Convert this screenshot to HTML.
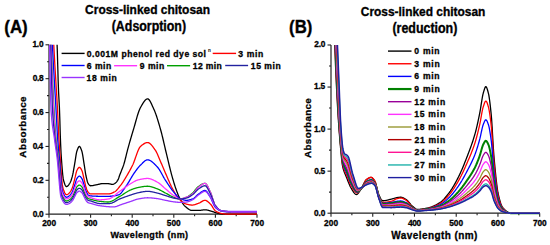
<!DOCTYPE html>
<html><head><meta charset="utf-8"><title>Cross-linked chitosan spectra</title><style>
html,body{margin:0;padding:0;background:#fff;width:550px;height:245px;overflow:hidden}
svg{display:block;position:absolute;left:0;top:0}
text{font-family:"Liberation Sans",sans-serif;font-weight:bold;fill:#000}
</style></head><body>
<svg width="550" height="245" viewBox="0 0 550 245">
<defs>
<clipPath id="ca"><rect x="40" y="44.8" width="230" height="180"/></clipPath>
<clipPath id="cb"><rect x="320" y="45" width="230" height="180"/></clipPath>
</defs>

<path d="M49.0 44.8V214.2H257.0" fill="none" stroke="#222" stroke-width="1.2"/><path d="M45.5 214.20H49.0" stroke="#222" stroke-width="1.1"/><path d="M45.5 180.32H49.0" stroke="#222" stroke-width="1.1"/><path d="M45.5 146.44H49.0" stroke="#222" stroke-width="1.1"/><path d="M45.5 112.56H49.0" stroke="#222" stroke-width="1.1"/><path d="M45.5 78.68H49.0" stroke="#222" stroke-width="1.1"/><path d="M45.5 44.80H49.0" stroke="#222" stroke-width="1.1"/><path d="M47.0 197.26H49.0" stroke="#222" stroke-width="1.1"/><path d="M47.0 163.38H49.0" stroke="#222" stroke-width="1.1"/><path d="M47.0 129.50H49.0" stroke="#222" stroke-width="1.1"/><path d="M47.0 95.62H49.0" stroke="#222" stroke-width="1.1"/><path d="M47.0 61.74H49.0" stroke="#222" stroke-width="1.1"/><path d="M49.00 214.2V217.7" stroke="#222" stroke-width="1.1"/><path d="M90.60 214.2V217.7" stroke="#222" stroke-width="1.1"/><path d="M132.20 214.2V217.7" stroke="#222" stroke-width="1.1"/><path d="M173.80 214.2V217.7" stroke="#222" stroke-width="1.1"/><path d="M215.40 214.2V217.7" stroke="#222" stroke-width="1.1"/><path d="M257.00 214.2V217.7" stroke="#222" stroke-width="1.1"/><path d="M69.80 214.2V216.2" stroke="#222" stroke-width="1.1"/><path d="M111.40 214.2V216.2" stroke="#222" stroke-width="1.1"/><path d="M153.00 214.2V216.2" stroke="#222" stroke-width="1.1"/><path d="M194.60 214.2V216.2" stroke="#222" stroke-width="1.1"/><path d="M236.20 214.2V216.2" stroke="#222" stroke-width="1.1"/>
<path d="M331.0 45.0V213.2H539.7" fill="none" stroke="#222" stroke-width="1.2"/><path d="M327.5 213.20H331.0" stroke="#222" stroke-width="1.1"/><path d="M327.5 171.15H331.0" stroke="#222" stroke-width="1.1"/><path d="M327.5 129.10H331.0" stroke="#222" stroke-width="1.1"/><path d="M327.5 87.05H331.0" stroke="#222" stroke-width="1.1"/><path d="M327.5 45.00H331.0" stroke="#222" stroke-width="1.1"/><path d="M329.0 192.17H331.0" stroke="#222" stroke-width="1.1"/><path d="M329.0 150.12H331.0" stroke="#222" stroke-width="1.1"/><path d="M329.0 108.07H331.0" stroke="#222" stroke-width="1.1"/><path d="M329.0 66.03H331.0" stroke="#222" stroke-width="1.1"/><path d="M331.00 213.2V216.7" stroke="#222" stroke-width="1.1"/><path d="M372.74 213.2V216.7" stroke="#222" stroke-width="1.1"/><path d="M414.48 213.2V216.7" stroke="#222" stroke-width="1.1"/><path d="M456.22 213.2V216.7" stroke="#222" stroke-width="1.1"/><path d="M497.96 213.2V216.7" stroke="#222" stroke-width="1.1"/><path d="M539.70 213.2V216.7" stroke="#222" stroke-width="1.1"/><path d="M351.87 213.2V215.2" stroke="#222" stroke-width="1.1"/><path d="M393.61 213.2V215.2" stroke="#222" stroke-width="1.1"/><path d="M435.35 213.2V215.2" stroke="#222" stroke-width="1.1"/><path d="M477.09 213.2V215.2" stroke="#222" stroke-width="1.1"/><path d="M518.83 213.2V215.2" stroke="#222" stroke-width="1.1"/>
<text x="85.10" y="14.00" font-size="13.2" textLength="124.93" lengthAdjust="spacingAndGlyphs" stroke="#000" stroke-width="0.35">Cross-linked chitosan</text>
<text x="111.74" y="31.30" font-size="14.0" textLength="74.33" lengthAdjust="spacingAndGlyphs" stroke="#000" stroke-width="0.35">(Adsorption)</text>
<text x="4.27" y="32.70" font-size="17.5" textLength="23.48" lengthAdjust="spacingAndGlyphs" stroke="#000" stroke-width="0.35">(A)</text>
<text x="360.78" y="16.30" font-size="13.2" textLength="124.56" lengthAdjust="spacingAndGlyphs" stroke="#000" stroke-width="0.35">Cross-linked chitosan</text>
<text x="392.43" y="33.40" font-size="14.0" textLength="64.87" lengthAdjust="spacingAndGlyphs" stroke="#000" stroke-width="0.35">(reduction)</text>
<text x="289.10" y="33.00" font-size="17.5" textLength="23.22" lengthAdjust="spacingAndGlyphs" stroke="#000" stroke-width="0.35">(B)</text>
<text x="110.38" y="238.40" font-size="9.0" textLength="77.69" lengthAdjust="spacing" stroke="#000" stroke-width="0.3">Wavelength (nm)</text>
<text x="391.23" y="238.70" font-size="10.0" textLength="86.20" lengthAdjust="spacing" stroke="#000" stroke-width="0.3">Wavelength (nm)</text>
<text x="86.82" y="56.70" font-size="8.6" textLength="119.19" lengthAdjust="spacing" stroke="#000" stroke-width="0.3">0.001M phenol red dye sol</text>
<text x="207.9" y="51.6" font-size="4.6" font-weight="normal">n</text>
<text x="238.33" y="56.70" font-size="8.6" textLength="24.97" lengthAdjust="spacing" stroke="#000" stroke-width="0.3">3 min</text>
<text x="86.85" y="68.70" font-size="8.6" textLength="24.31" lengthAdjust="spacing" stroke="#000" stroke-width="0.3">6 min</text>
<text x="139.84" y="68.70" font-size="8.6" textLength="24.30" lengthAdjust="spacing" stroke="#000" stroke-width="0.3">9 min</text>
<text x="192.80" y="68.70" font-size="8.6" textLength="29.07" lengthAdjust="spacing" stroke="#000" stroke-width="0.3">12 min</text>
<text x="250.86" y="68.60" font-size="8.6" textLength="29.79" lengthAdjust="spacing" stroke="#000" stroke-width="0.3">15 min</text>
<text x="86.57" y="80.50" font-size="8.6" textLength="30.08" lengthAdjust="spacing" stroke="#000" stroke-width="0.3">18 min</text>
<text x="414.34" y="54.00" font-size="8.6" textLength="25.27" lengthAdjust="spacing" stroke="#000" stroke-width="0.3">0 min</text>
<text x="414.33" y="66.65" font-size="8.6" textLength="25.30" lengthAdjust="spacing" stroke="#000" stroke-width="0.3">3 min</text>
<text x="414.28" y="79.30" font-size="8.6" textLength="25.33" lengthAdjust="spacing" stroke="#000" stroke-width="0.3">6 min</text>
<text x="414.33" y="91.95" font-size="8.6" textLength="25.32" lengthAdjust="spacing" stroke="#000" stroke-width="0.3">9 min</text>
<text x="414.17" y="104.60" font-size="8.6" textLength="31.00" lengthAdjust="spacing" stroke="#000" stroke-width="0.3">12 min</text>
<text x="414.17" y="117.25" font-size="8.6" textLength="31.00" lengthAdjust="spacing" stroke="#000" stroke-width="0.3">15 min</text>
<text x="414.17" y="129.90" font-size="8.6" textLength="31.00" lengthAdjust="spacing" stroke="#000" stroke-width="0.3">18 min</text>
<text x="414.40" y="142.55" font-size="8.6" textLength="30.77" lengthAdjust="spacing" stroke="#000" stroke-width="0.3">21 min</text>
<text x="414.40" y="155.20" font-size="8.6" textLength="30.77" lengthAdjust="spacing" stroke="#000" stroke-width="0.3">24 min</text>
<text x="414.40" y="167.85" font-size="8.6" textLength="30.77" lengthAdjust="spacing" stroke="#000" stroke-width="0.3">27 min</text>
<text x="414.33" y="180.50" font-size="8.6" textLength="30.81" lengthAdjust="spacing" stroke="#000" stroke-width="0.3">30 min</text>
<text x="32.87" y="216.60" font-size="8.3" textLength="10.67" lengthAdjust="spacing" stroke="#000" stroke-width="0.3">0.0</text>
<text x="32.85" y="182.72" font-size="8.3" textLength="10.66" lengthAdjust="spacing" stroke="#000" stroke-width="0.3">0.2</text>
<text x="32.85" y="148.84" font-size="8.3" textLength="10.36" lengthAdjust="spacing" stroke="#000" stroke-width="0.3">0.4</text>
<text x="32.85" y="114.96" font-size="8.3" textLength="10.65" lengthAdjust="spacing" stroke="#000" stroke-width="0.3">0.6</text>
<text x="32.85" y="81.08" font-size="8.3" textLength="10.65" lengthAdjust="spacing" stroke="#000" stroke-width="0.3">0.8</text>
<text x="32.49" y="47.20" font-size="8.3" textLength="11.08" lengthAdjust="spacing" stroke="#000" stroke-width="0.3">1.0</text>
<text x="42.27" y="225.70" font-size="8.3" textLength="13.75" lengthAdjust="spacing" stroke="#000" stroke-width="0.3">200</text>
<text x="83.72" y="225.70" font-size="8.3" textLength="13.66" lengthAdjust="spacing" stroke="#000" stroke-width="0.3">300</text>
<text x="125.62" y="225.70" font-size="8.3" textLength="13.48" lengthAdjust="spacing" stroke="#000" stroke-width="0.3">400</text>
<text x="166.78" y="225.70" font-size="8.3" textLength="13.82" lengthAdjust="spacing" stroke="#000" stroke-width="0.3">500</text>
<text x="208.57" y="225.70" font-size="8.3" textLength="13.74" lengthAdjust="spacing" stroke="#000" stroke-width="0.3">600</text>
<text x="250.15" y="225.70" font-size="8.3" textLength="13.88" lengthAdjust="spacing" stroke="#000" stroke-width="0.3">700</text>
<text x="314.06" y="215.60" font-size="8.3" textLength="11.24" lengthAdjust="spacing" stroke="#000" stroke-width="0.3">0.0</text>
<text x="314.18" y="173.55" font-size="8.3" textLength="10.83" lengthAdjust="spacing" stroke="#000" stroke-width="0.3">0.5</text>
<text x="314.10" y="131.50" font-size="8.3" textLength="11.23" lengthAdjust="spacing" stroke="#000" stroke-width="0.3">1.0</text>
<text x="314.10" y="89.45" font-size="8.3" textLength="10.91" lengthAdjust="spacing" stroke="#000" stroke-width="0.3">1.5</text>
<text x="314.26" y="47.40" font-size="8.3" textLength="11.07" lengthAdjust="spacing" stroke="#000" stroke-width="0.3">2.0</text>
<text x="324.06" y="225.50" font-size="8.3" textLength="13.96" lengthAdjust="spacing" stroke="#000" stroke-width="0.3">200</text>
<text x="365.88" y="225.50" font-size="8.3" textLength="13.73" lengthAdjust="spacing" stroke="#000" stroke-width="0.3">300</text>
<text x="407.90" y="225.50" font-size="8.3" textLength="13.33" lengthAdjust="spacing" stroke="#000" stroke-width="0.3">400</text>
<text x="449.13" y="225.50" font-size="8.3" textLength="14.07" lengthAdjust="spacing" stroke="#000" stroke-width="0.3">500</text>
<text x="490.99" y="225.50" font-size="8.3" textLength="13.82" lengthAdjust="spacing" stroke="#000" stroke-width="0.3">600</text>
<text x="532.92" y="225.50" font-size="8.3" textLength="13.65" lengthAdjust="spacing" stroke="#000" stroke-width="0.3">700</text>
<text transform="translate(26.40 157.67) rotate(-90)" font-size="9.9" textLength="61.26" lengthAdjust="spacing" stroke="#000" stroke-width="0.3">Absorbance</text>
<text transform="translate(311.00 157.88) rotate(-90)" font-size="9.9" textLength="59.69" lengthAdjust="spacing" stroke="#000" stroke-width="0.3">Absorbance</text>
<g clip-path="url(#ca)" fill="none" stroke-width="1.3" stroke-linejoin="round">
<path stroke="#000000" d="M47.34 -158.48L47.75 -154.00L48.17 -149.01L48.58 -143.52L49.00 -137.56L49.42 -131.14L49.83 -124.29L50.25 -117.03L50.66 -109.37L51.08 -101.34L51.50 -92.95L51.91 -84.23L52.33 -75.20L52.74 -65.87L53.16 -56.27L53.58 -46.41L53.99 -36.32L54.41 -26.02L54.82 -15.52L55.24 -4.85L55.66 5.98L56.07 16.94L56.49 28.02L56.90 39.19L57.32 51.01L57.74 65.66L58.15 80.43L58.57 91.93L58.98 99.59L59.40 107.27L59.82 119.20L60.23 133.67L60.65 144.64L61.06 153.23L61.48 159.58L61.90 165.26L62.31 170.38L62.73 174.75L63.14 178.13L63.56 180.32L63.98 181.79L64.39 183.12L64.81 184.28L65.22 185.24L65.64 185.97L66.06 186.43L66.47 186.59L66.89 186.51L67.30 186.30L67.72 185.97L68.14 185.55L68.55 185.05L68.97 184.48L69.38 183.88L69.80 183.26L70.22 182.53L70.63 181.60L71.05 180.49L71.46 179.23L71.88 177.86L72.30 176.39L72.71 174.68L73.13 172.64L73.54 170.37L73.96 167.97L74.38 165.54L74.79 163.17L75.21 160.65L75.62 157.89L76.04 155.19L76.46 152.86L76.87 151.21L77.29 150.02L77.70 148.90L78.12 147.92L78.54 147.14L78.95 146.63L79.37 146.44L79.78 146.62L80.20 147.14L80.62 147.91L81.03 148.89L81.45 150.00L81.86 151.19L82.28 152.80L82.70 155.04L83.11 157.66L83.53 160.41L83.94 163.03L84.36 165.66L84.78 168.48L85.19 171.27L85.61 173.85L86.02 176.01L86.44 177.89L86.86 179.68L87.27 181.27L87.69 182.56L88.10 183.43L88.52 184.03L88.94 184.58L89.35 185.05L89.77 185.42L90.18 185.66L90.60 185.74L91.02 185.73L91.43 185.71L91.85 185.67L92.26 185.62L92.68 185.56L93.10 185.49L93.51 185.41L93.93 185.33L94.34 185.24L94.76 185.15L95.18 185.06L95.59 184.97L96.01 184.88L96.42 184.80L96.84 184.72L97.26 184.65L97.67 184.56L98.09 184.46L98.50 184.36L98.92 184.25L99.34 184.15L99.75 184.05L100.17 183.95L100.58 183.85L101.00 183.76L101.42 183.69L101.83 183.63L102.25 183.58L102.66 183.55L103.08 183.54L103.50 183.54L103.91 183.54L104.33 183.55L104.74 183.56L105.16 183.57L105.58 183.58L105.99 183.59L106.41 183.61L106.82 183.63L107.24 183.65L107.66 183.66L108.07 183.69L108.49 183.71L108.90 183.75L109.32 183.81L109.74 183.89L110.15 183.98L110.57 184.07L110.98 184.17L111.40 184.25L111.82 184.32L112.23 184.37L112.65 184.39L113.06 184.34L113.48 184.21L113.90 184.02L114.31 183.77L114.73 183.48L115.14 183.18L115.56 182.86L115.98 182.51L116.39 182.08L116.81 181.58L117.22 181.00L117.64 180.36L118.06 179.64L118.47 178.71L118.89 177.53L119.30 176.26L119.72 175.07L120.14 173.99L120.55 172.95L120.97 171.91L121.38 170.88L121.80 169.82L122.22 168.76L122.63 167.71L123.05 166.62L123.46 165.45L123.88 164.16L124.30 162.74L124.71 161.24L125.13 159.65L125.54 158.01L125.96 156.33L126.38 154.64L126.79 152.96L127.21 151.30L127.62 149.68L128.04 148.13L128.46 146.63L128.87 145.14L129.29 143.67L129.70 142.20L130.12 140.75L130.54 139.30L130.95 137.87L131.37 136.45L131.78 135.04L132.20 133.64L132.62 132.25L133.03 130.87L133.45 129.50L133.86 128.11L134.28 126.69L134.70 125.23L135.11 123.75L135.53 122.27L135.94 120.78L136.36 119.31L136.78 117.86L137.19 116.44L137.61 115.06L138.02 113.74L138.44 112.48L138.86 111.29L139.27 110.18L139.69 109.17L140.10 108.27L140.52 107.48L140.94 106.75L141.35 106.01L141.77 105.28L142.18 104.56L142.60 103.86L143.02 103.18L143.43 102.52L143.85 101.90L144.26 101.32L144.68 100.79L145.10 100.31L145.51 99.88L145.93 99.52L146.34 99.23L146.76 99.02L147.18 98.88L147.59 98.84L148.01 98.92L148.42 99.14L148.84 99.49L149.26 99.96L149.67 100.53L150.09 101.20L150.50 101.94L150.92 102.75L151.34 103.62L151.75 104.52L152.17 105.45L152.58 106.39L153.00 107.34L153.42 108.27L153.83 109.17L154.25 110.09L154.66 111.07L155.08 112.12L155.50 113.21L155.91 114.36L156.33 115.56L156.74 116.80L157.16 118.08L157.58 119.39L157.99 120.74L158.41 122.11L158.82 123.51L159.24 124.93L159.66 126.37L160.07 127.82L160.49 129.28L160.90 130.75L161.32 132.29L161.74 133.89L162.15 135.55L162.57 137.25L162.98 139.00L163.40 140.77L163.82 142.56L164.23 144.36L164.65 146.16L165.06 147.96L165.48 149.74L165.90 151.50L166.31 153.22L166.73 154.93L167.14 156.65L167.56 158.39L167.98 160.13L168.39 161.87L168.81 163.60L169.22 165.32L169.64 167.02L170.06 168.70L170.47 170.35L170.89 171.96L171.30 173.54L171.72 175.07L172.14 176.57L172.55 178.05L172.97 179.51L173.38 180.94L173.80 182.35L174.22 183.72L174.63 185.06L175.05 186.35L175.46 187.60L175.88 188.79L176.30 189.95L176.71 191.10L177.13 192.23L177.54 193.33L177.96 194.39L178.38 195.41L178.79 196.39L179.21 197.31L179.62 198.16L180.04 198.95L180.46 199.70L180.87 200.43L181.29 201.13L181.70 201.82L182.12 202.48L182.54 203.12L182.95 203.72L183.37 204.29L183.78 204.83L184.20 205.33L184.62 205.79L185.03 206.20L185.45 206.58L185.86 206.93L186.28 207.28L186.70 207.63L187.11 207.97L187.53 208.31L187.94 208.63L188.36 208.93L188.78 209.22L189.19 209.49L189.61 209.73L190.02 209.94L190.44 210.13L190.86 210.27L191.27 210.38L191.69 210.45L192.10 210.47L192.52 210.47L192.94 210.47L193.35 210.47L193.77 210.47L194.18 210.47L194.60 210.47L195.02 210.47L195.43 210.47L195.85 210.47L196.26 210.47L196.68 210.47L197.10 210.47L197.51 210.47L197.93 210.47L198.34 210.47L198.76 210.47L199.18 210.46L199.59 210.44L200.01 210.40L200.42 210.35L200.84 210.30L201.26 210.23L201.67 210.17L202.09 210.10L202.50 210.03L202.92 209.97L203.34 209.91L203.75 209.87L204.17 209.83L204.58 209.80L205.00 209.80L205.42 209.81L205.83 209.84L206.25 209.88L206.66 209.95L207.08 210.03L207.50 210.12L207.91 210.22L208.33 210.32L208.74 210.44L209.16 210.56L209.58 210.68L209.99 210.80L210.41 210.92L210.82 211.04L211.24 211.15L211.66 211.27L212.07 211.39L212.49 211.53L212.90 211.67L213.32 211.82L213.74 211.97L214.15 212.12L214.57 212.28L214.98 212.43L215.40 212.58L215.82 212.72L216.23 212.85L216.65 212.97L217.06 213.09L217.48 213.18L217.90 213.28L218.31 213.37L218.73 213.46L219.14 213.56L219.56 213.65L219.98 213.74L220.39 213.82L220.81 213.90L221.22 213.97L221.64 214.04L222.06 214.09L222.47 214.14L222.89 214.17L223.30 214.19L223.72 214.20L224.14 214.20L224.55 214.20L224.97 214.20L225.38 214.20L225.80 214.20L226.22 214.20L226.63 214.20L227.05 214.20L227.46 214.20L227.88 214.20L228.30 214.20L228.71 214.20L229.13 214.20L229.54 214.20L229.96 214.20L230.38 214.20L230.79 214.20L231.21 214.20L231.62 214.20L232.04 214.20L232.46 214.20L232.87 214.20L233.29 214.20L233.70 214.20L234.12 214.20L234.54 214.20L234.95 214.20L235.37 214.20L235.78 214.20L236.20 214.20L236.62 214.20L237.03 214.20L237.45 214.20L237.86 214.20L238.28 214.20L238.70 214.20L239.11 214.20L239.53 214.20L239.94 214.20L240.36 214.20L240.78 214.20L241.19 214.20L241.61 214.20L242.02 214.20L242.44 214.20L242.86 214.20L243.27 214.20L243.69 214.20L244.10 214.20L244.52 214.20L244.94 214.20L245.35 214.20L245.77 214.20L246.18 214.20L246.60 214.20L247.02 214.20L247.43 214.20L247.85 214.20L248.26 214.20L248.68 214.20L249.10 214.20L249.51 214.20L249.93 214.20L250.34 214.20L250.76 214.20L251.18 214.20L251.59 214.20L252.01 214.20L252.42 214.20L252.84 214.20L253.26 214.20L253.67 214.20L254.09 214.20L254.50 214.20L254.92 214.20L255.34 214.20L255.75 214.20L256.17 214.20L256.58 214.20L257.00 214.20"/>
<path stroke="#ff0000" d="M46.09 -158.48L46.50 -145.10L46.92 -131.99L47.34 -119.17L47.75 -106.62L48.17 -94.35L48.58 -82.36L49.00 -70.64L49.42 -59.19L49.83 -48.02L50.25 -37.11L50.66 -26.48L51.08 -16.11L51.50 -6.01L51.91 3.82L52.33 13.39L52.74 22.69L53.16 31.73L53.58 40.51L53.99 48.97L54.41 56.83L54.82 64.19L55.24 71.18L55.66 77.97L56.07 84.70L56.49 91.52L56.90 98.58L57.32 106.04L57.74 114.18L58.15 123.18L58.57 132.12L58.98 140.00L59.40 146.57L59.82 152.45L60.23 157.96L60.65 163.67L61.06 169.66L61.48 175.46L61.90 180.61L62.31 184.64L62.73 187.10L63.14 188.55L63.56 189.89L63.98 191.09L64.39 192.14L64.81 193.03L65.22 193.75L65.64 194.28L66.06 194.61L66.47 194.72L66.89 194.67L67.30 194.52L67.72 194.29L68.14 194.00L68.55 193.65L68.97 193.26L69.38 192.84L69.80 192.41L70.22 191.90L70.63 191.26L71.05 190.50L71.46 189.64L71.88 188.70L72.30 187.70L72.71 186.53L73.13 185.14L73.54 183.59L73.96 181.95L74.38 180.29L74.79 178.67L75.21 176.95L75.62 175.07L76.04 173.23L76.46 171.65L76.87 170.52L77.29 169.71L77.70 168.95L78.12 168.28L78.54 167.75L78.95 167.40L79.37 167.28L79.78 167.40L80.20 167.75L80.62 168.28L81.03 168.94L81.45 169.69L81.86 170.50L82.28 171.59L82.70 173.11L83.11 174.89L83.53 176.75L83.94 178.53L84.36 180.31L84.78 182.22L85.19 184.11L85.61 185.85L86.02 187.32L86.44 188.59L86.86 189.79L87.27 190.87L87.69 191.74L88.10 192.32L88.52 192.73L88.94 193.09L89.35 193.41L89.77 193.66L90.18 193.82L90.60 193.87L91.02 193.87L91.43 193.87L91.85 193.87L92.26 193.87L92.68 193.87L93.10 193.87L93.51 193.87L93.93 193.87L94.34 193.87L94.76 193.87L95.18 193.87L95.59 193.87L96.01 193.87L96.42 193.87L96.84 193.87L97.26 193.87L97.67 193.87L98.09 193.87L98.50 193.87L98.92 193.87L99.34 193.87L99.75 193.87L100.17 193.87L100.58 193.87L101.00 193.87L101.42 193.87L101.83 193.87L102.25 193.87L102.66 193.87L103.08 193.87L103.50 193.87L103.91 193.87L104.33 193.87L104.74 193.87L105.16 193.87L105.58 193.87L105.99 193.87L106.41 193.87L106.82 193.87L107.24 193.87L107.66 193.87L108.07 193.87L108.49 193.87L108.90 193.86L109.32 193.82L109.74 193.75L110.15 193.67L110.57 193.56L110.98 193.44L111.40 193.30L111.82 193.14L112.23 192.97L112.65 192.79L113.06 192.60L113.48 192.41L113.90 192.21L114.31 192.01L114.73 191.78L115.14 191.50L115.56 191.18L115.98 190.82L116.39 190.43L116.81 190.00L117.22 189.54L117.64 189.06L118.06 188.56L118.47 188.05L118.89 187.53L119.30 187.00L119.72 186.46L120.14 185.93L120.55 185.40L120.97 184.87L121.38 184.31L121.80 183.74L122.22 183.14L122.63 182.53L123.05 181.90L123.46 181.25L123.88 180.60L124.30 179.93L124.71 179.25L125.13 178.57L125.54 177.88L125.96 177.18L126.38 176.48L126.79 175.77L127.21 175.07L127.62 174.36L128.04 173.65L128.46 172.92L128.87 172.19L129.29 171.45L129.70 170.70L130.12 169.93L130.54 169.16L130.95 168.37L131.37 167.57L131.78 166.75L132.20 165.92L132.62 165.07L133.03 164.18L133.45 163.20L133.86 162.15L134.28 161.06L134.70 159.92L135.11 158.75L135.53 157.56L135.94 156.37L136.36 155.18L136.78 154.02L137.19 152.89L137.61 151.80L138.02 150.76L138.44 149.80L138.86 148.92L139.27 148.13L139.69 147.44L140.10 146.88L140.52 146.44L140.94 146.08L141.35 145.72L141.77 145.37L142.18 145.04L142.60 144.71L143.02 144.40L143.43 144.11L143.85 143.84L144.26 143.59L144.68 143.36L145.10 143.15L145.51 142.98L145.93 142.83L146.34 142.70L146.76 142.62L147.18 142.56L147.59 142.54L148.01 142.58L148.42 142.68L148.84 142.85L149.26 143.07L149.67 143.35L150.09 143.68L150.50 144.05L150.92 144.46L151.34 144.91L151.75 145.39L152.17 145.90L152.58 146.43L153.00 146.98L153.42 147.54L153.83 148.11L154.25 148.68L154.66 149.26L155.08 149.83L155.50 150.43L155.91 151.12L156.33 151.87L156.74 152.69L157.16 153.56L157.58 154.47L157.99 155.42L158.41 156.40L158.82 157.40L159.24 158.41L159.66 159.43L160.07 160.44L160.49 161.44L160.90 162.42L161.32 163.38L161.74 164.33L162.15 165.29L162.57 166.26L162.98 167.24L163.40 168.23L163.82 169.22L164.23 170.21L164.65 171.19L165.06 172.18L165.48 173.15L165.90 174.12L166.31 175.07L166.73 176.02L167.14 176.98L167.56 177.94L167.98 178.91L168.39 179.88L168.81 180.84L169.22 181.79L169.64 182.74L170.06 183.67L170.47 184.59L170.89 185.48L171.30 186.35L171.72 187.19L172.14 188.01L172.55 188.79L172.97 189.55L173.38 190.32L173.80 191.08L174.22 191.83L174.63 192.57L175.05 193.30L175.46 194.01L175.88 194.69L176.30 195.35L176.71 195.99L177.13 196.59L177.54 197.16L177.96 197.69L178.38 198.17L178.79 198.62L179.21 199.03L179.62 199.44L180.04 199.84L180.46 200.23L180.87 200.61L181.29 200.98L181.70 201.34L182.12 201.68L182.54 202.01L182.95 202.32L183.37 202.61L183.78 202.88L184.20 203.13L184.62 203.36L185.03 203.57L185.45 203.75L185.86 203.91L186.28 204.04L186.70 204.15L187.11 204.26L187.53 204.37L187.94 204.47L188.36 204.57L188.78 204.66L189.19 204.74L189.61 204.82L190.02 204.89L190.44 204.94L190.86 204.99L191.27 205.02L191.69 205.05L192.10 205.05L192.52 205.04L192.94 205.00L193.35 204.95L193.77 204.87L194.18 204.78L194.60 204.67L195.02 204.54L195.43 204.41L195.85 204.27L196.26 204.12L196.68 203.96L197.10 203.81L197.51 203.65L197.93 203.49L198.34 203.34L198.76 203.19L199.18 203.03L199.59 202.83L200.01 202.61L200.42 202.37L200.84 202.12L201.26 201.86L201.67 201.60L202.09 201.35L202.50 201.11L202.92 200.89L203.34 200.70L203.75 200.54L204.17 200.42L204.58 200.34L205.00 200.31L205.42 200.34L205.83 200.45L206.25 200.61L206.66 200.83L207.08 201.09L207.50 201.39L207.91 201.72L208.33 202.08L208.74 202.46L209.16 202.85L209.58 203.25L209.99 203.65L210.41 204.04L210.82 204.47L211.24 204.99L211.66 205.58L212.07 206.22L212.49 206.90L212.90 207.58L213.32 208.25L213.74 208.90L214.15 209.50L214.57 210.03L214.98 210.47L215.40 210.81L215.82 211.09L216.23 211.35L216.65 211.60L217.06 211.83L217.48 212.05L217.90 212.26L218.31 212.46L218.73 212.64L219.14 212.81L219.56 212.97L219.98 213.11L220.39 213.24L220.81 213.35L221.22 213.44L221.64 213.52L222.06 213.59L222.47 213.66L222.89 213.73L223.30 213.80L223.72 213.86L224.14 213.92L224.55 213.97L224.97 214.02L225.38 214.07L225.80 214.10L226.22 214.14L226.63 214.16L227.05 214.18L227.46 214.20L227.88 214.20L228.30 214.20L228.71 214.20L229.13 214.20L229.54 214.20L229.96 214.20L230.38 214.20L230.79 214.20L231.21 214.20L231.62 214.20L232.04 214.20L232.46 214.20L232.87 214.20L233.29 214.20L233.70 214.20L234.12 214.20L234.54 214.20L234.95 214.20L235.37 214.20L235.78 214.20L236.20 214.20L236.62 214.20L237.03 214.20L237.45 214.20L237.86 214.20L238.28 214.20L238.70 214.20L239.11 214.20L239.53 214.20L239.94 214.20L240.36 214.20L240.78 214.20L241.19 214.20L241.61 214.20L242.02 214.20L242.44 214.20L242.86 214.20L243.27 214.20L243.69 214.20L244.10 214.20L244.52 214.20L244.94 214.20L245.35 214.20L245.77 214.20L246.18 214.20L246.60 214.20L247.02 214.20L247.43 214.20L247.85 214.20L248.26 214.20L248.68 214.20L249.10 214.20L249.51 214.20L249.93 214.20L250.34 214.20L250.76 214.20L251.18 214.20L251.59 214.20L252.01 214.20L252.42 214.20L252.84 214.20L253.26 214.20L253.67 214.20L254.09 214.20L254.50 214.20L254.92 214.20L255.34 214.20L255.75 214.20L256.17 214.20L256.58 214.20L257.00 214.20"/>
<path stroke="#0000ff" d="M44.84 -158.48L45.26 -144.95L45.67 -131.71L46.09 -118.74L46.50 -106.06L46.92 -93.65L47.34 -81.52L47.75 -69.67L48.17 -58.09L48.58 -46.78L49.00 -35.74L49.42 -24.97L49.83 -14.46L50.25 -4.22L50.66 5.75L51.08 15.46L51.50 24.91L51.91 34.11L52.33 43.04L52.74 51.63L53.16 59.73L53.58 67.43L53.99 74.83L54.41 82.02L54.82 89.10L55.24 96.17L55.66 103.32L56.07 110.67L56.49 118.46L56.90 126.33L57.32 133.71L57.74 140.00L58.15 145.08L58.57 149.48L58.98 153.63L59.40 157.96L59.82 162.96L60.23 168.55L60.65 174.32L61.06 179.82L61.48 184.63L61.90 188.33L62.31 190.48L62.73 191.68L63.14 192.77L63.56 193.77L63.98 194.65L64.39 195.42L64.81 196.06L65.22 196.58L65.64 196.95L66.06 197.18L66.47 197.26L66.89 197.22L67.30 197.10L67.72 196.91L68.14 196.67L68.55 196.38L68.97 196.07L69.38 195.73L69.80 195.38L70.22 194.98L70.63 194.48L71.05 193.89L71.46 193.22L71.88 192.49L72.30 191.71L72.71 190.80L73.13 189.73L73.54 188.54L73.96 187.28L74.38 186.01L74.79 184.77L75.21 183.46L75.62 182.02L76.04 180.62L76.46 179.41L76.87 178.55L77.29 177.93L77.70 177.35L78.12 176.85L78.54 176.45L78.95 176.18L79.37 176.08L79.78 176.18L80.20 176.44L80.62 176.84L81.03 177.34L81.45 177.91L81.86 178.52L82.28 179.34L82.70 180.48L83.11 181.81L83.53 183.21L83.94 184.54L84.36 185.88L84.78 187.30L85.19 188.71L85.61 190.01L86.02 191.10L86.44 192.04L86.86 192.93L87.27 193.72L87.69 194.36L88.10 194.79L88.52 195.07L88.94 195.33L89.35 195.55L89.77 195.72L90.18 195.84L90.60 195.90L91.02 195.93L91.43 195.96L91.85 195.99L92.26 196.02L92.68 196.04L93.10 196.07L93.51 196.09L93.93 196.11L94.34 196.13L94.76 196.15L95.18 196.17L95.59 196.19L96.01 196.21L96.42 196.23L96.84 196.24L97.26 196.26L97.67 196.27L98.09 196.29L98.50 196.30L98.92 196.31L99.34 196.32L99.75 196.33L100.17 196.34L100.58 196.35L101.00 196.36L101.42 196.37L101.83 196.37L102.25 196.38L102.66 196.39L103.08 196.39L103.50 196.39L103.91 196.40L104.33 196.40L104.74 196.41L105.16 196.41L105.58 196.41L105.99 196.41L106.41 196.41L106.82 196.41L107.24 196.41L107.66 196.41L108.07 196.40L108.49 196.38L108.90 196.36L109.32 196.34L109.74 196.31L110.15 196.27L110.57 196.23L110.98 196.19L111.40 196.15L111.82 196.10L112.23 196.05L112.65 196.00L113.06 195.95L113.48 195.90L113.90 195.85L114.31 195.80L114.73 195.74L115.14 195.67L115.56 195.60L115.98 195.52L116.39 195.43L116.81 195.33L117.22 195.23L117.64 195.12L118.06 195.00L118.47 194.86L118.89 194.72L119.30 194.53L119.72 194.28L120.14 193.96L120.55 193.59L120.97 193.17L121.38 192.70L121.80 192.19L122.22 191.65L122.63 191.08L123.05 190.49L123.46 189.89L123.88 189.27L124.30 188.65L124.71 188.03L125.13 187.42L125.54 186.83L125.96 186.25L126.38 185.67L126.79 185.07L127.21 184.45L127.62 183.80L128.04 183.14L128.46 182.47L128.87 181.79L129.29 181.09L129.70 180.39L130.12 179.69L130.54 178.98L130.95 178.28L131.37 177.57L131.78 176.88L132.20 176.19L132.62 175.51L133.03 174.84L133.45 174.19L133.86 173.56L134.28 172.95L134.70 172.36L135.11 171.78L135.53 171.20L135.94 170.63L136.36 170.05L136.78 169.49L137.19 168.93L137.61 168.39L138.02 167.86L138.44 167.34L138.86 166.84L139.27 166.37L139.69 165.91L140.10 165.48L140.52 165.07L140.94 164.68L141.35 164.26L141.77 163.85L142.18 163.42L142.60 163.00L143.02 162.59L143.43 162.19L143.85 161.80L144.26 161.44L144.68 161.10L145.10 160.79L145.51 160.51L145.93 160.28L146.34 160.09L146.76 159.94L147.18 159.85L147.59 159.82L148.01 159.84L148.42 159.90L148.84 160.00L149.26 160.14L149.67 160.31L150.09 160.51L150.50 160.74L150.92 160.99L151.34 161.28L151.75 161.58L152.17 161.91L152.58 162.26L153.00 162.62L153.42 163.00L153.83 163.40L154.25 163.80L154.66 164.21L155.08 164.64L155.50 165.06L155.91 165.49L156.33 165.92L156.74 166.34L157.16 166.77L157.58 167.22L157.99 167.72L158.41 168.26L158.82 168.85L159.24 169.48L159.66 170.14L160.07 170.83L160.49 171.54L160.90 172.27L161.32 173.02L161.74 173.77L162.15 174.54L162.57 175.30L162.98 176.06L163.40 176.82L163.82 177.56L164.23 178.29L164.65 178.99L165.06 179.67L165.48 180.32L165.90 180.95L166.31 181.59L166.73 182.22L167.14 182.86L167.56 183.49L167.98 184.12L168.39 184.74L168.81 185.37L169.22 185.98L169.64 186.59L170.06 187.20L170.47 187.80L170.89 188.38L171.30 188.96L171.72 189.53L172.14 190.08L172.55 190.63L172.97 191.16L173.38 191.68L173.80 192.18L174.22 192.68L174.63 193.19L175.05 193.71L175.46 194.23L175.88 194.75L176.30 195.25L176.71 195.75L177.13 196.22L177.54 196.67L177.96 197.10L178.38 197.49L178.79 197.84L179.21 198.15L179.62 198.41L180.04 198.62L180.46 198.79L180.87 198.97L181.29 199.13L181.70 199.30L182.12 199.45L182.54 199.60L182.95 199.73L183.37 199.86L183.78 199.97L184.20 200.07L184.62 200.15L185.03 200.22L185.45 200.27L185.86 200.30L186.28 200.31L186.70 200.30L187.11 200.28L187.53 200.24L187.94 200.18L188.36 200.12L188.78 200.04L189.19 199.95L189.61 199.85L190.02 199.74L190.44 199.62L190.86 199.50L191.27 199.37L191.69 199.23L192.10 199.10L192.52 198.95L192.94 198.78L193.35 198.56L193.77 198.28L194.18 197.97L194.60 197.62L195.02 197.25L195.43 196.85L195.85 196.45L196.26 196.04L196.68 195.63L197.10 195.23L197.51 194.85L197.93 194.49L198.34 194.16L198.76 193.87L199.18 193.59L199.59 193.30L200.01 193.00L200.42 192.69L200.84 192.39L201.26 192.09L201.67 191.81L202.09 191.54L202.50 191.29L202.92 191.06L203.34 190.87L203.75 190.71L204.17 190.59L204.58 190.51L205.00 190.48L205.42 190.55L205.83 190.75L206.25 191.06L206.66 191.46L207.08 191.95L207.50 192.52L207.91 193.14L208.33 193.80L208.74 194.49L209.16 195.19L209.58 195.90L209.99 196.59L210.41 197.26L210.82 197.97L211.24 198.80L211.66 199.72L212.07 200.70L212.49 201.71L212.90 202.72L213.32 203.72L213.74 204.67L214.15 205.54L214.57 206.31L214.98 206.94L215.40 207.42L215.82 207.81L216.23 208.18L216.65 208.53L217.06 208.86L217.48 209.18L217.90 209.48L218.31 209.75L218.73 210.01L219.14 210.24L219.56 210.46L219.98 210.64L220.39 210.81L220.81 210.95L221.22 211.06L221.64 211.15L222.06 211.22L222.47 211.29L222.89 211.36L223.30 211.43L223.72 211.49L224.14 211.55L224.55 211.61L224.97 211.66L225.38 211.71L225.80 211.76L226.22 211.81L226.63 211.85L227.05 211.89L227.46 211.93L227.88 211.97L228.30 212.00L228.71 212.03L229.13 212.06L229.54 212.08L229.96 212.10L230.38 212.12L230.79 212.14L231.21 212.15L231.62 212.16L232.04 212.17L232.46 212.17L232.87 212.18L233.29 212.18L233.70 212.19L234.12 212.20L234.54 212.20L234.95 212.21L235.37 212.21L235.78 212.22L236.20 212.22L236.62 212.23L237.03 212.23L237.45 212.24L237.86 212.24L238.28 212.24L238.70 212.25L239.11 212.25L239.53 212.26L239.94 212.26L240.36 212.26L240.78 212.27L241.19 212.27L241.61 212.28L242.02 212.28L242.44 212.28L242.86 212.29L243.27 212.29L243.69 212.29L244.10 212.29L244.52 212.30L244.94 212.30L245.35 212.30L245.77 212.30L246.18 212.31L246.60 212.31L247.02 212.31L247.43 212.31L247.85 212.32L248.26 212.32L248.68 212.32L249.10 212.32L249.51 212.32L249.93 212.32L250.34 212.33L250.76 212.33L251.18 212.33L251.59 212.33L252.01 212.33L252.42 212.33L252.84 212.33L253.26 212.33L253.67 212.33L254.09 212.33L254.50 212.34L254.92 212.34L255.34 212.34L255.75 212.34L256.17 212.34L256.58 212.34L257.00 212.34"/>
<path stroke="#00a000" d="M44.01 -158.48L44.42 -144.69L44.84 -131.16L45.26 -117.87L45.67 -104.82L46.09 -92.01L46.50 -79.43L46.92 -67.08L47.34 -54.95L47.75 -43.05L48.17 -31.36L48.58 -19.88L49.00 -8.61L49.42 2.46L49.83 13.33L50.25 24.01L50.66 34.50L51.08 44.80L51.50 54.97L51.91 65.00L52.33 74.77L52.74 84.19L53.16 93.13L53.58 101.49L53.99 109.17L54.41 116.40L54.82 123.33L55.24 129.72L55.66 135.36L56.07 140.00L56.49 143.67L56.90 146.70L57.32 149.37L57.74 151.95L58.15 154.72L58.57 157.96L58.98 162.10L59.40 167.13L59.82 172.66L60.23 178.30L60.65 183.63L61.06 188.27L61.48 191.82L61.90 193.87L62.31 195.01L62.73 196.07L63.14 197.04L63.56 197.92L63.98 198.70L64.39 199.37L64.81 199.94L65.22 200.39L65.64 200.72L66.06 200.92L66.47 200.99L66.89 200.95L67.30 200.85L67.72 200.70L68.14 200.51L68.55 200.28L68.97 200.03L69.38 199.76L69.80 199.49L70.22 199.17L70.63 198.79L71.05 198.33L71.46 197.83L71.88 197.27L72.30 196.68L72.71 196.00L73.13 195.19L73.54 194.30L73.96 193.36L74.38 192.41L74.79 191.49L75.21 190.52L75.62 189.45L76.04 188.41L76.46 187.51L76.87 186.88L77.29 186.43L77.70 186.00L78.12 185.62L78.54 185.33L78.95 185.13L79.37 185.06L79.78 185.13L80.20 185.32L80.62 185.61L81.03 185.98L81.45 186.39L81.86 186.84L82.28 187.43L82.70 188.26L83.11 189.23L83.53 190.24L83.94 191.21L84.36 192.17L84.78 193.20L85.19 194.21L85.61 195.15L86.02 195.92L86.44 196.59L86.86 197.22L87.27 197.78L87.69 198.23L88.10 198.53L88.52 198.71L88.94 198.86L89.35 198.98L89.77 199.09L90.18 199.19L90.60 199.29L91.02 199.40L91.43 199.51L91.85 199.63L92.26 199.74L92.68 199.85L93.10 199.96L93.51 200.06L93.93 200.17L94.34 200.28L94.76 200.38L95.18 200.48L95.59 200.58L96.01 200.67L96.42 200.76L96.84 200.85L97.26 200.93L97.67 201.01L98.09 201.08L98.50 201.15L98.92 201.22L99.34 201.27L99.75 201.33L100.17 201.37L100.58 201.42L101.00 201.47L101.42 201.52L101.83 201.57L102.25 201.62L102.66 201.66L103.08 201.71L103.50 201.75L103.91 201.79L104.33 201.82L104.74 201.86L105.16 201.89L105.58 201.92L105.99 201.94L106.41 201.96L106.82 201.98L107.24 201.99L107.66 202.00L108.07 202.00L108.49 201.99L108.90 201.95L109.32 201.89L109.74 201.80L110.15 201.69L110.57 201.57L110.98 201.42L111.40 201.26L111.82 201.08L112.23 200.88L112.65 200.67L113.06 200.45L113.48 200.22L113.90 199.98L114.31 199.73L114.73 199.48L115.14 199.22L115.56 198.96L115.98 198.69L116.39 198.42L116.81 198.16L117.22 197.89L117.64 197.63L118.06 197.37L118.47 197.12L118.89 196.88L119.30 196.64L119.72 196.41L120.14 196.19L120.55 195.95L120.97 195.71L121.38 195.46L121.80 195.20L122.22 194.94L122.63 194.67L123.05 194.40L123.46 194.13L123.88 193.86L124.30 193.58L124.71 193.30L125.13 193.03L125.54 192.76L125.96 192.49L126.38 192.22L126.79 191.96L127.21 191.71L127.62 191.46L128.04 191.22L128.46 190.98L128.87 190.76L129.29 190.55L129.70 190.34L130.12 190.15L130.54 189.98L130.95 189.81L131.37 189.64L131.78 189.47L132.20 189.31L132.62 189.15L133.03 189.00L133.45 188.84L133.86 188.70L134.28 188.55L134.70 188.41L135.11 188.28L135.53 188.15L135.94 188.03L136.36 187.92L136.78 187.81L137.19 187.70L137.61 187.61L138.02 187.52L138.44 187.43L138.86 187.36L139.27 187.28L139.69 187.20L140.10 187.12L140.52 187.05L140.94 186.97L141.35 186.90L141.77 186.83L142.18 186.76L142.60 186.69L143.02 186.63L143.43 186.57L143.85 186.51L144.26 186.46L144.68 186.41L145.10 186.37L145.51 186.34L145.93 186.31L146.34 186.28L146.76 186.26L147.18 186.25L147.59 186.25L148.01 186.26L148.42 186.28L148.84 186.32L149.26 186.37L149.67 186.43L150.09 186.51L150.50 186.60L150.92 186.69L151.34 186.80L151.75 186.91L152.17 187.04L152.58 187.16L153.00 187.30L153.42 187.44L153.83 187.58L154.25 187.73L154.66 187.88L155.08 188.03L155.50 188.19L155.91 188.34L156.33 188.49L156.74 188.64L157.16 188.79L157.58 188.94L157.99 189.11L158.41 189.28L158.82 189.47L159.24 189.66L159.66 189.87L160.07 190.08L160.49 190.30L160.90 190.52L161.32 190.74L161.74 190.97L162.15 191.21L162.57 191.44L162.98 191.67L163.40 191.90L163.82 192.14L164.23 192.36L164.65 192.59L165.06 192.81L165.48 193.02L165.90 193.24L166.31 193.46L166.73 193.69L167.14 193.91L167.56 194.15L167.98 194.38L168.39 194.61L168.81 194.85L169.22 195.08L169.64 195.31L170.06 195.54L170.47 195.76L170.89 195.97L171.30 196.19L171.72 196.39L172.14 196.58L172.55 196.77L172.97 196.94L173.38 197.11L173.80 197.26L174.22 197.41L174.63 197.56L175.05 197.71L175.46 197.87L175.88 198.02L176.30 198.17L176.71 198.31L177.13 198.44L177.54 198.57L177.96 198.68L178.38 198.77L178.79 198.85L179.21 198.91L179.62 198.94L180.04 198.95L180.46 198.94L180.87 198.91L181.29 198.86L181.70 198.78L182.12 198.69L182.54 198.59L182.95 198.47L183.37 198.34L183.78 198.20L184.20 198.06L184.62 197.90L185.03 197.75L185.45 197.58L185.86 197.42L186.28 197.26L186.70 197.09L187.11 196.89L187.53 196.68L187.94 196.44L188.36 196.19L188.78 195.92L189.19 195.64L189.61 195.34L190.02 195.03L190.44 194.72L190.86 194.39L191.27 194.06L191.69 193.72L192.10 193.37L192.52 193.02L192.94 192.65L193.35 192.24L193.77 191.78L194.18 191.30L194.60 190.80L195.02 190.28L195.43 189.75L195.85 189.23L196.26 188.72L196.68 188.22L197.10 187.75L197.51 187.30L197.93 186.90L198.34 186.55L198.76 186.25L199.18 185.98L199.59 185.70L200.01 185.43L200.42 185.16L200.84 184.90L201.26 184.65L201.67 184.42L202.09 184.20L202.50 183.99L202.92 183.82L203.34 183.66L203.75 183.54L204.17 183.45L204.58 183.39L205.00 183.37L205.42 183.46L205.83 183.71L206.25 184.11L206.66 184.63L207.08 185.27L207.50 186.00L207.91 186.80L208.33 187.66L208.74 188.56L209.16 189.48L209.58 190.40L209.99 191.31L210.41 192.18L210.82 193.12L211.24 194.21L211.66 195.43L212.07 196.73L212.49 198.08L212.90 199.43L213.32 200.76L213.74 202.03L214.15 203.19L214.57 204.22L214.98 205.08L215.40 205.73L215.82 206.25L216.23 206.76L216.65 207.24L217.06 207.70L217.48 208.14L217.90 208.56L218.31 208.94L218.73 209.30L219.14 209.62L219.56 209.91L219.98 210.17L220.39 210.39L220.81 210.57L221.22 210.71L221.64 210.81L222.06 210.89L222.47 210.96L222.89 211.03L223.30 211.10L223.72 211.16L224.14 211.22L224.55 211.28L224.97 211.33L225.38 211.39L225.80 211.44L226.22 211.48L226.63 211.52L227.05 211.56L227.46 211.60L227.88 211.64L228.30 211.67L228.71 211.70L229.13 211.72L229.54 211.75L229.96 211.77L230.38 211.78L230.79 211.80L231.21 211.81L231.62 211.82L232.04 211.83L232.46 211.83L232.87 211.84L233.29 211.85L233.70 211.85L234.12 211.86L234.54 211.86L234.95 211.87L235.37 211.87L235.78 211.88L236.20 211.88L236.62 211.89L237.03 211.89L237.45 211.90L237.86 211.90L238.28 211.91L238.70 211.91L239.11 211.91L239.53 211.92L239.94 211.92L240.36 211.93L240.78 211.93L241.19 211.93L241.61 211.94L242.02 211.94L242.44 211.94L242.86 211.95L243.27 211.95L243.69 211.95L244.10 211.96L244.52 211.96L244.94 211.96L245.35 211.96L245.77 211.97L246.18 211.97L246.60 211.97L247.02 211.97L247.43 211.97L247.85 211.98L248.26 211.98L248.68 211.98L249.10 211.98L249.51 211.98L249.93 211.99L250.34 211.99L250.76 211.99L251.18 211.99L251.59 211.99L252.01 211.99L252.42 211.99L252.84 211.99L253.26 211.99L253.67 212.00L254.09 212.00L254.50 212.00L254.92 212.00L255.34 212.00L255.75 212.00L256.17 212.00L256.58 212.00L257.00 212.00"/>
<path stroke="#ff33ff" d="M44.01 -158.48L44.42 -144.97L44.84 -131.65L45.26 -118.50L45.67 -105.53L46.09 -92.73L46.50 -80.10L46.92 -67.63L47.34 -55.31L47.75 -43.15L48.17 -31.13L48.58 -19.26L49.00 -7.52L49.42 4.08L49.83 15.55L50.25 26.89L50.66 38.12L51.08 49.27L51.50 60.64L51.91 72.01L52.33 83.03L52.74 93.37L53.16 102.69L53.58 110.66L53.99 117.80L54.41 124.39L54.82 130.34L55.24 135.57L55.66 140.00L56.07 143.66L56.49 146.74L56.90 149.50L57.32 152.13L57.74 154.88L58.15 157.96L58.57 161.65L58.98 165.92L59.40 170.54L59.82 175.26L60.23 179.85L60.65 184.07L61.06 187.69L61.48 190.47L61.90 192.18L62.31 193.23L62.73 194.22L63.14 195.14L63.56 195.97L63.98 196.72L64.39 197.37L64.81 197.92L65.22 198.36L65.64 198.69L66.06 198.89L66.47 198.95L66.89 198.92L67.30 198.81L67.72 198.65L68.14 198.44L68.55 198.19L68.97 197.92L69.38 197.62L69.80 197.32L70.22 196.98L70.63 196.54L71.05 196.03L71.46 195.46L71.88 194.83L72.30 194.16L72.71 193.39L73.13 192.47L73.54 191.45L73.96 190.38L74.38 189.29L74.79 188.23L75.21 187.11L75.62 185.89L76.04 184.69L76.46 183.66L76.87 182.93L77.29 182.40L77.70 181.91L78.12 181.48L78.54 181.14L78.95 180.91L79.37 180.83L79.78 180.91L80.20 181.13L80.62 181.47L81.03 181.89L81.45 182.38L81.86 182.89L82.28 183.59L82.70 184.56L83.11 185.69L83.53 186.88L83.94 188.01L84.36 189.14L84.78 190.34L85.19 191.54L85.61 192.64L86.02 193.55L86.44 194.35L86.86 195.10L87.27 195.77L87.69 196.30L88.10 196.66L88.52 196.89L88.94 197.07L89.35 197.23L89.77 197.36L90.18 197.48L90.60 197.60L91.02 197.73L91.43 197.86L91.85 198.00L92.26 198.13L92.68 198.27L93.10 198.40L93.51 198.54L93.93 198.67L94.34 198.80L94.76 198.93L95.18 199.05L95.59 199.17L96.01 199.27L96.42 199.37L96.84 199.47L97.26 199.55L97.67 199.62L98.09 199.68L98.50 199.73L98.92 199.77L99.34 199.79L99.75 199.80L100.17 199.80L100.58 199.79L101.00 199.78L101.42 199.76L101.83 199.74L102.25 199.72L102.66 199.69L103.08 199.66L103.50 199.62L103.91 199.58L104.33 199.54L104.74 199.49L105.16 199.44L105.58 199.39L105.99 199.33L106.41 199.27L106.82 199.21L107.24 199.15L107.66 199.09L108.07 199.02L108.49 198.95L108.90 198.87L109.32 198.76L109.74 198.62L110.15 198.45L110.57 198.26L110.98 198.04L111.40 197.81L111.82 197.55L112.23 197.28L112.65 196.99L113.06 196.69L113.48 196.37L113.90 196.05L114.31 195.71L114.73 195.37L115.14 195.03L115.56 194.67L115.98 194.32L116.39 193.97L116.81 193.62L117.22 193.27L117.64 192.92L118.06 192.58L118.47 192.25L118.89 191.93L119.30 191.63L119.72 191.33L120.14 191.04L120.55 190.75L120.97 190.45L121.38 190.15L121.80 189.84L122.22 189.53L122.63 189.22L123.05 188.91L123.46 188.60L123.88 188.29L124.30 187.98L124.71 187.67L125.13 187.36L125.54 187.05L125.96 186.75L126.38 186.45L126.79 186.15L127.21 185.86L127.62 185.57L128.04 185.28L128.46 185.00L128.87 184.73L129.29 184.46L129.70 184.20L130.12 183.95L130.54 183.71L130.95 183.47L131.37 183.22L131.78 182.98L132.20 182.73L132.62 182.48L133.03 182.24L133.45 182.00L133.86 181.76L134.28 181.53L134.70 181.31L135.11 181.09L135.53 180.89L135.94 180.69L136.36 180.51L136.78 180.34L137.19 180.18L137.61 180.04L138.02 179.92L138.44 179.81L138.86 179.72L139.27 179.62L139.69 179.53L140.10 179.44L140.52 179.35L140.94 179.26L141.35 179.18L141.77 179.09L142.18 179.02L142.60 178.94L143.02 178.87L143.43 178.80L143.85 178.74L144.26 178.69L144.68 178.64L145.10 178.59L145.51 178.55L145.93 178.52L146.34 178.49L146.76 178.47L147.18 178.46L147.59 178.46L148.01 178.47L148.42 178.50L148.84 178.55L149.26 178.62L149.67 178.71L150.09 178.81L150.50 178.93L150.92 179.06L151.34 179.21L151.75 179.36L152.17 179.53L152.58 179.71L153.00 179.90L153.42 180.09L153.83 180.29L154.25 180.50L154.66 180.71L155.08 180.93L155.50 181.14L155.91 181.36L156.33 181.58L156.74 181.80L157.16 182.01L157.58 182.24L157.99 182.49L158.41 182.76L158.82 183.05L159.24 183.36L159.66 183.68L160.07 184.02L160.49 184.37L160.90 184.72L161.32 185.09L161.74 185.46L162.15 185.84L162.57 186.22L162.98 186.60L163.40 186.98L163.82 187.36L164.23 187.73L164.65 188.09L165.06 188.45L165.48 188.79L165.90 189.13L166.31 189.48L166.73 189.83L167.14 190.19L167.56 190.55L167.98 190.91L168.39 191.27L168.81 191.64L169.22 192.00L169.64 192.35L170.06 192.71L170.47 193.06L170.89 193.40L171.30 193.74L171.72 194.07L172.14 194.39L172.55 194.70L172.97 195.00L173.38 195.29L173.80 195.57L174.22 195.84L174.63 196.13L175.05 196.43L175.46 196.74L175.88 197.04L176.30 197.34L176.71 197.63L177.13 197.90L177.54 198.15L177.96 198.37L178.38 198.57L178.79 198.73L179.21 198.85L179.62 198.93L180.04 198.95L180.46 198.94L180.87 198.91L181.29 198.85L181.70 198.77L182.12 198.68L182.54 198.57L182.95 198.45L183.37 198.32L183.78 198.18L184.20 198.03L184.62 197.88L185.03 197.73L185.45 197.57L185.86 197.41L186.28 197.26L186.70 197.10L187.11 196.94L187.53 196.76L187.94 196.58L188.36 196.38L188.78 196.18L189.19 195.96L189.61 195.73L190.02 195.50L190.44 195.25L190.86 195.00L191.27 194.73L191.69 194.45L192.10 194.17L192.52 193.87L192.94 193.54L193.35 193.16L193.77 192.74L194.18 192.29L194.60 191.80L195.02 191.30L195.43 190.78L195.85 190.26L196.26 189.74L196.68 189.23L197.10 188.74L197.51 188.27L197.93 187.84L198.34 187.44L198.76 187.10L199.18 186.77L199.59 186.43L200.01 186.09L200.42 185.75L200.84 185.42L201.26 185.09L201.67 184.78L202.09 184.49L202.50 184.22L202.92 183.98L203.34 183.77L203.75 183.60L204.17 183.48L204.58 183.40L205.00 183.37L205.42 183.46L205.83 183.71L206.25 184.11L206.66 184.63L207.08 185.27L207.50 186.00L207.91 186.80L208.33 187.66L208.74 188.56L209.16 189.48L209.58 190.40L209.99 191.31L210.41 192.18L210.82 193.12L211.24 194.21L211.66 195.43L212.07 196.73L212.49 198.08L212.90 199.43L213.32 200.76L213.74 202.03L214.15 203.19L214.57 204.22L214.98 205.08L215.40 205.73L215.82 206.25L216.23 206.76L216.65 207.24L217.06 207.70L217.48 208.13L217.90 208.54L218.31 208.92L218.73 209.27L219.14 209.60L219.56 209.89L219.98 210.15L220.39 210.37L220.81 210.55L221.22 210.70L221.64 210.81L222.06 210.90L222.47 210.98L222.89 211.06L223.30 211.14L223.72 211.21L224.14 211.29L224.55 211.35L224.97 211.42L225.38 211.48L225.80 211.53L226.22 211.59L226.63 211.64L227.05 211.69L227.46 211.73L227.88 211.77L228.30 211.81L228.71 211.84L229.13 211.87L229.54 211.90L229.96 211.93L230.38 211.95L230.79 211.96L231.21 211.98L231.62 211.99L232.04 212.00L232.46 212.00L232.87 212.01L233.29 212.02L233.70 212.02L234.12 212.03L234.54 212.03L234.95 212.04L235.37 212.04L235.78 212.05L236.20 212.05L236.62 212.06L237.03 212.06L237.45 212.07L237.86 212.07L238.28 212.08L238.70 212.08L239.11 212.08L239.53 212.09L239.94 212.09L240.36 212.10L240.78 212.10L241.19 212.10L241.61 212.11L242.02 212.11L242.44 212.11L242.86 212.12L243.27 212.12L243.69 212.12L244.10 212.13L244.52 212.13L244.94 212.13L245.35 212.13L245.77 212.14L246.18 212.14L246.60 212.14L247.02 212.14L247.43 212.14L247.85 212.15L248.26 212.15L248.68 212.15L249.10 212.15L249.51 212.15L249.93 212.16L250.34 212.16L250.76 212.16L251.18 212.16L251.59 212.16L252.01 212.16L252.42 212.16L252.84 212.16L253.26 212.16L253.67 212.16L254.09 212.17L254.50 212.17L254.92 212.17L255.34 212.17L255.75 212.17L256.17 212.17L256.58 212.17L257.00 212.17"/>
<path stroke="#2222a0" d="M43.59 -158.48L44.01 -148.48L44.42 -138.17L44.84 -127.57L45.26 -116.67L45.67 -105.50L46.09 -94.08L46.50 -82.41L46.92 -70.50L47.34 -58.38L47.75 -46.06L48.17 -33.54L48.58 -20.85L49.00 -7.99L49.42 5.02L49.83 18.16L50.25 31.43L50.66 44.80L51.08 59.99L51.50 76.96L51.91 93.07L52.33 105.69L52.74 113.35L53.16 119.40L53.58 124.50L53.99 128.89L54.41 132.79L54.82 136.42L55.24 140.00L55.66 143.38L56.07 146.36L56.49 149.12L56.90 151.85L57.32 154.74L57.74 157.96L58.15 161.87L58.57 166.51L58.98 171.59L59.40 176.84L59.82 181.96L60.23 186.68L60.65 190.71L61.06 193.77L61.48 195.57L61.90 196.61L62.31 197.59L62.73 198.50L63.14 199.33L63.56 200.07L63.98 200.74L64.39 201.31L64.81 201.79L65.22 202.17L65.64 202.45L66.06 202.62L66.47 202.68L66.89 202.65L67.30 202.56L67.72 202.42L68.14 202.24L68.55 202.03L68.97 201.80L69.38 201.55L69.80 201.30L70.22 201.02L70.63 200.66L71.05 200.25L71.46 199.79L71.88 199.29L72.30 198.76L72.71 198.14L73.13 197.41L73.54 196.61L73.96 195.76L74.38 194.90L74.79 194.07L75.21 193.19L75.62 192.23L76.04 191.29L76.46 190.49L76.87 189.92L77.29 189.51L77.70 189.12L78.12 188.79L78.54 188.52L78.95 188.35L79.37 188.28L79.78 188.34L80.20 188.52L80.62 188.78L81.03 189.10L81.45 189.48L81.86 189.87L82.28 190.41L82.70 191.15L83.11 192.02L83.53 192.92L83.94 193.79L84.36 194.65L84.78 195.56L85.19 196.47L85.61 197.30L86.02 198.00L86.44 198.59L86.86 199.15L87.27 199.65L87.69 200.05L88.10 200.31L88.52 200.47L88.94 200.60L89.35 200.70L89.77 200.79L90.18 200.88L90.60 200.99L91.02 201.11L91.43 201.23L91.85 201.37L92.26 201.51L92.68 201.66L93.10 201.81L93.51 201.96L93.93 202.12L94.34 202.27L94.76 202.42L95.18 202.57L95.59 202.71L96.01 202.85L96.42 202.97L96.84 203.09L97.26 203.20L97.67 203.29L98.09 203.37L98.50 203.44L98.92 203.49L99.34 203.52L99.75 203.53L100.17 203.53L100.58 203.53L101.00 203.53L101.42 203.53L101.83 203.53L102.25 203.53L102.66 203.53L103.08 203.53L103.50 203.53L103.91 203.53L104.33 203.53L104.74 203.53L105.16 203.53L105.58 203.53L105.99 203.53L106.41 203.53L106.82 203.53L107.24 203.53L107.66 203.53L108.07 203.53L108.49 203.53L108.90 203.53L109.32 203.53L109.74 203.51L110.15 203.47L110.57 203.40L110.98 203.30L111.40 203.18L111.82 203.04L112.23 202.89L112.65 202.71L113.06 202.52L113.48 202.31L113.90 202.10L114.31 201.87L114.73 201.64L115.14 201.40L115.56 201.16L115.98 200.91L116.39 200.67L116.81 200.43L117.22 200.19L117.64 199.96L118.06 199.73L118.47 199.52L118.89 199.32L119.30 199.13L119.72 198.95L120.14 198.79L120.55 198.63L120.97 198.46L121.38 198.30L121.80 198.14L122.22 197.99L122.63 197.83L123.05 197.67L123.46 197.52L123.88 197.36L124.30 197.21L124.71 197.06L125.13 196.91L125.54 196.76L125.96 196.61L126.38 196.47L126.79 196.32L127.21 196.18L127.62 196.03L128.04 195.89L128.46 195.75L128.87 195.61L129.29 195.47L129.70 195.33L130.12 195.19L130.54 195.06L130.95 194.92L131.37 194.78L131.78 194.64L132.20 194.50L132.62 194.36L133.03 194.22L133.45 194.09L133.86 193.95L134.28 193.81L134.70 193.68L135.11 193.55L135.53 193.43L135.94 193.30L136.36 193.19L136.78 193.07L137.19 192.97L137.61 192.87L138.02 192.77L138.44 192.69L138.86 192.60L139.27 192.52L139.69 192.43L140.10 192.35L140.52 192.26L140.94 192.17L141.35 192.09L141.77 192.01L142.18 191.93L142.60 191.85L143.02 191.78L143.43 191.71L143.85 191.64L144.26 191.58L144.68 191.53L145.10 191.48L145.51 191.44L145.93 191.40L146.34 191.37L146.76 191.35L147.18 191.34L147.59 191.33L148.01 191.34L148.42 191.35L148.84 191.38L149.26 191.41L149.67 191.46L150.09 191.51L150.50 191.57L150.92 191.63L151.34 191.71L151.75 191.78L152.17 191.87L152.58 191.95L153.00 192.04L153.42 192.14L153.83 192.23L154.25 192.33L154.66 192.43L155.08 192.53L155.50 192.63L155.91 192.73L156.33 192.83L156.74 192.93L157.16 193.02L157.58 193.12L157.99 193.23L158.41 193.33L158.82 193.45L159.24 193.57L159.66 193.69L160.07 193.82L160.49 193.95L160.90 194.08L161.32 194.21L161.74 194.35L162.15 194.49L162.57 194.62L162.98 194.76L163.40 194.90L163.82 195.04L164.23 195.17L164.65 195.31L165.06 195.44L165.48 195.57L165.90 195.70L166.31 195.83L166.73 195.97L167.14 196.11L167.56 196.25L167.98 196.39L168.39 196.54L168.81 196.68L169.22 196.82L169.64 196.96L170.06 197.10L170.47 197.24L170.89 197.37L171.30 197.49L171.72 197.61L172.14 197.73L172.55 197.83L172.97 197.93L173.38 198.03L173.80 198.11L174.22 198.18L174.63 198.26L175.05 198.34L175.46 198.42L175.88 198.50L176.30 198.57L176.71 198.64L177.13 198.71L177.54 198.77L177.96 198.82L178.38 198.87L178.79 198.90L179.21 198.93L179.62 198.95L180.04 198.95L180.46 198.95L180.87 198.93L181.29 198.91L181.70 198.88L182.12 198.83L182.54 198.79L182.95 198.73L183.37 198.67L183.78 198.60L184.20 198.53L184.62 198.45L185.03 198.37L185.45 198.28L185.86 198.20L186.28 198.11L186.70 198.00L187.11 197.87L187.53 197.72L187.94 197.54L188.36 197.35L188.78 197.13L189.19 196.90L189.61 196.66L190.02 196.40L190.44 196.14L190.86 195.86L191.27 195.58L191.69 195.29L192.10 195.01L192.52 194.72L192.94 194.41L193.35 194.06L193.77 193.68L194.18 193.27L194.60 192.84L195.02 192.40L195.43 191.95L195.85 191.49L196.26 191.04L196.68 190.60L197.10 190.18L197.51 189.78L197.93 189.41L198.34 189.08L198.76 188.79L199.18 188.52L199.59 188.24L200.01 187.96L200.42 187.68L200.84 187.40L201.26 187.14L201.67 186.88L202.09 186.65L202.50 186.43L202.92 186.23L203.34 186.07L203.75 185.93L204.17 185.83L204.58 185.76L205.00 185.74L205.42 185.82L205.83 186.06L206.25 186.43L206.66 186.92L207.08 187.51L207.50 188.19L207.91 188.94L208.33 189.73L208.74 190.56L209.16 191.41L209.58 192.25L209.99 193.08L210.41 193.87L210.82 194.71L211.24 195.67L211.66 196.73L212.07 197.86L212.49 199.02L212.90 200.18L213.32 201.33L213.74 202.43L214.15 203.44L214.57 204.35L214.98 205.12L215.40 205.73L215.82 206.24L216.23 206.73L216.65 207.21L217.06 207.68L217.48 208.12L217.90 208.53L218.31 208.93L218.73 209.29L219.14 209.62L219.56 209.92L219.98 210.18L220.39 210.40L220.81 210.58L221.22 210.72L221.64 210.81L222.06 210.88L222.47 210.94L222.89 211.00L223.30 211.06L223.72 211.11L224.14 211.16L224.55 211.21L224.97 211.26L225.38 211.31L225.80 211.35L226.22 211.39L226.63 211.42L227.05 211.46L227.46 211.49L227.88 211.52L228.30 211.55L228.71 211.57L229.13 211.59L229.54 211.61L229.96 211.62L230.38 211.64L230.79 211.65L231.21 211.65L231.62 211.66L232.04 211.66L232.46 211.66L232.87 211.66L233.29 211.66L233.70 211.66L234.12 211.66L234.54 211.66L234.95 211.66L235.37 211.66L235.78 211.66L236.20 211.66L236.62 211.66L237.03 211.66L237.45 211.66L237.86 211.66L238.28 211.66L238.70 211.66L239.11 211.66L239.53 211.66L239.94 211.66L240.36 211.66L240.78 211.66L241.19 211.66L241.61 211.66L242.02 211.66L242.44 211.66L242.86 211.66L243.27 211.66L243.69 211.66L244.10 211.66L244.52 211.66L244.94 211.66L245.35 211.66L245.77 211.66L246.18 211.66L246.60 211.66L247.02 211.66L247.43 211.66L247.85 211.66L248.26 211.66L248.68 211.66L249.10 211.66L249.51 211.66L249.93 211.66L250.34 211.66L250.76 211.66L251.18 211.66L251.59 211.66L252.01 211.66L252.42 211.66L252.84 211.66L253.26 211.66L253.67 211.66L254.09 211.66L254.50 211.66L254.92 211.66L255.34 211.66L255.75 211.66L256.17 211.66L256.58 211.66L257.00 211.66"/>
<path stroke="#9933ff" d="M42.76 -158.48L43.18 -151.05L43.59 -142.75L44.01 -133.62L44.42 -123.72L44.84 -113.09L45.26 -101.77L45.67 -89.82L46.09 -77.29L46.50 -64.21L46.92 -50.64L47.34 -36.62L47.75 -22.20L48.17 -7.43L48.58 7.65L49.00 22.99L49.42 38.53L49.83 55.92L50.25 78.55L50.66 99.31L51.08 110.47L51.50 116.22L51.91 120.89L52.33 124.70L52.74 127.86L53.16 130.59L53.58 133.13L53.99 135.67L54.41 138.45L54.82 141.58L55.24 144.57L55.66 147.42L56.07 150.25L56.49 153.17L56.90 156.29L57.32 159.79L57.74 164.04L58.15 168.86L58.57 174.00L58.98 179.21L59.40 184.22L59.82 188.79L60.23 192.65L60.65 195.56L61.06 197.26L61.48 198.24L61.90 199.15L62.31 200.01L62.73 200.80L63.14 201.51L63.56 202.16L63.98 202.73L64.39 203.22L64.81 203.63L65.22 203.95L65.64 204.18L66.06 204.33L66.47 204.37L66.89 204.35L67.30 204.27L67.72 204.15L68.14 204.00L68.55 203.82L68.97 203.62L69.38 203.40L69.80 203.18L70.22 202.93L70.63 202.61L71.05 202.24L71.46 201.82L71.88 201.37L72.30 200.88L72.71 200.31L73.13 199.64L73.54 198.90L73.96 198.12L74.38 197.32L74.79 196.56L75.21 195.74L75.62 194.85L76.04 193.97L76.46 193.22L76.87 192.69L77.29 192.31L77.70 191.95L78.12 191.63L78.54 191.39L78.95 191.22L79.37 191.16L79.78 191.22L80.20 191.38L80.62 191.63L81.03 191.94L81.45 192.29L81.86 192.67L82.28 193.17L82.70 193.88L83.11 194.70L83.53 195.56L83.94 196.39L84.36 197.21L84.78 198.08L85.19 198.95L85.61 199.75L86.02 200.42L86.44 201.00L86.86 201.54L87.27 202.03L87.69 202.42L88.10 202.68L88.52 202.84L88.94 202.97L89.35 203.07L89.77 203.17L90.18 203.26L90.60 203.36L91.02 203.47L91.43 203.59L91.85 203.71L92.26 203.83L92.68 203.95L93.10 204.08L93.51 204.20L93.93 204.33L94.34 204.45L94.76 204.57L95.18 204.70L95.59 204.81L96.01 204.93L96.42 205.04L96.84 205.15L97.26 205.25L97.67 205.35L98.09 205.44L98.50 205.52L98.92 205.60L99.34 205.67L99.75 205.73L100.17 205.79L100.58 205.84L101.00 205.90L101.42 205.95L101.83 206.00L102.25 206.06L102.66 206.11L103.08 206.16L103.50 206.21L103.91 206.26L104.33 206.31L104.74 206.36L105.16 206.40L105.58 206.45L105.99 206.49L106.41 206.53L106.82 206.57L107.24 206.61L107.66 206.65L108.07 206.68L108.49 206.71L108.90 206.74L109.32 206.77L109.74 206.80L110.15 206.82L110.57 206.84L110.98 206.86L111.40 206.88L111.82 206.89L112.23 206.90L112.65 206.91L113.06 206.91L113.48 206.92L113.90 206.90L114.31 206.87L114.73 206.81L115.14 206.74L115.56 206.64L115.98 206.53L116.39 206.41L116.81 206.27L117.22 206.13L117.64 205.97L118.06 205.81L118.47 205.65L118.89 205.48L119.30 205.31L119.72 205.14L120.14 204.98L120.55 204.81L120.97 204.66L121.38 204.51L121.80 204.37L122.22 204.24L122.63 204.11L123.05 203.97L123.46 203.84L123.88 203.70L124.30 203.57L124.71 203.43L125.13 203.29L125.54 203.15L125.96 203.01L126.38 202.87L126.79 202.74L127.21 202.60L127.62 202.46L128.04 202.32L128.46 202.18L128.87 202.04L129.29 201.90L129.70 201.77L130.12 201.63L130.54 201.50L130.95 201.36L131.37 201.21L131.78 201.07L132.20 200.92L132.62 200.77L133.03 200.62L133.45 200.46L133.86 200.31L134.28 200.16L134.70 200.01L135.11 199.87L135.53 199.73L135.94 199.60L136.36 199.47L136.78 199.35L137.19 199.24L137.61 199.13L138.02 199.04L138.44 198.95L138.86 198.88L139.27 198.80L139.69 198.72L140.10 198.64L140.52 198.57L140.94 198.49L141.35 198.42L141.77 198.35L142.18 198.28L142.60 198.21L143.02 198.15L143.43 198.09L143.85 198.03L144.26 197.98L144.68 197.93L145.10 197.89L145.51 197.86L145.93 197.83L146.34 197.80L146.76 197.78L147.18 197.77L147.59 197.77L148.01 197.77L148.42 197.78L148.84 197.79L149.26 197.81L149.67 197.83L150.09 197.85L150.50 197.88L150.92 197.91L151.34 197.94L151.75 197.98L152.17 198.02L152.58 198.06L153.00 198.11L153.42 198.15L153.83 198.20L154.25 198.25L154.66 198.30L155.08 198.35L155.50 198.41L155.91 198.46L156.33 198.51L156.74 198.56L157.16 198.62L157.58 198.67L157.99 198.73L158.41 198.80L158.82 198.87L159.24 198.95L159.66 199.03L160.07 199.12L160.49 199.21L160.90 199.30L161.32 199.39L161.74 199.49L162.15 199.58L162.57 199.68L162.98 199.77L163.40 199.87L163.82 199.96L164.23 200.05L164.65 200.14L165.06 200.23L165.48 200.31L165.90 200.39L166.31 200.47L166.73 200.56L167.14 200.64L167.56 200.73L167.98 200.82L168.39 200.90L168.81 200.99L169.22 201.07L169.64 201.16L170.06 201.24L170.47 201.32L170.89 201.40L171.30 201.47L171.72 201.54L172.14 201.61L172.55 201.67L172.97 201.73L173.38 201.78L173.80 201.83L174.22 201.88L174.63 201.93L175.05 201.98L175.46 202.02L175.88 202.07L176.30 202.11L176.71 202.15L177.13 202.19L177.54 202.23L177.96 202.26L178.38 202.29L178.79 202.31L179.21 202.33L179.62 202.34L180.04 202.34L180.46 202.34L180.87 202.33L181.29 202.33L181.70 202.31L182.12 202.30L182.54 202.28L182.95 202.26L183.37 202.23L183.78 202.21L184.20 202.18L184.62 202.15L185.03 202.11L185.45 202.08L185.86 202.04L186.28 202.00L186.70 201.95L187.11 201.88L187.53 201.80L187.94 201.69L188.36 201.57L188.78 201.44L189.19 201.29L189.61 201.13L190.02 200.96L190.44 200.78L190.86 200.60L191.27 200.40L191.69 200.21L192.10 200.01L192.52 199.80L192.94 199.57L193.35 199.31L193.77 199.01L194.18 198.68L194.60 198.33L195.02 197.96L195.43 197.58L195.85 197.19L196.26 196.80L196.68 196.41L197.10 196.03L197.51 195.67L197.93 195.33L198.34 195.01L198.76 194.72L199.18 194.44L199.59 194.15L200.01 193.85L200.42 193.54L200.84 193.24L201.26 192.94L201.67 192.65L202.09 192.38L202.50 192.13L202.92 191.91L203.34 191.71L203.75 191.55L204.17 191.43L204.58 191.36L205.00 191.33L205.42 191.39L205.83 191.56L206.25 191.83L206.66 192.18L207.08 192.61L207.50 193.09L207.91 193.63L208.33 194.21L208.74 194.82L209.16 195.43L209.58 196.06L209.99 196.67L210.41 197.26L210.82 197.90L211.24 198.63L211.66 199.45L212.07 200.33L212.49 201.23L212.90 202.15L213.32 203.06L213.74 203.92L214.15 204.73L214.57 205.46L214.98 206.08L215.40 206.58L215.82 206.99L216.23 207.40L216.65 207.80L217.06 208.18L217.48 208.55L217.90 208.90L218.31 209.23L218.73 209.53L219.14 209.81L219.56 210.06L219.98 210.28L220.39 210.47L220.81 210.62L221.22 210.74L221.64 210.81L222.06 210.86L222.47 210.91L222.89 210.96L223.30 211.01L223.72 211.05L224.14 211.09L224.55 211.13L224.97 211.17L225.38 211.21L225.80 211.24L226.22 211.27L226.63 211.30L227.05 211.33L227.46 211.36L227.88 211.38L228.30 211.40L228.71 211.42L229.13 211.43L229.54 211.45L229.96 211.46L230.38 211.47L230.79 211.48L231.21 211.49L231.62 211.49L232.04 211.49L232.46 211.49L232.87 211.49L233.29 211.49L233.70 211.49L234.12 211.49L234.54 211.49L234.95 211.49L235.37 211.49L235.78 211.49L236.20 211.49L236.62 211.49L237.03 211.49L237.45 211.49L237.86 211.49L238.28 211.49L238.70 211.49L239.11 211.49L239.53 211.49L239.94 211.49L240.36 211.49L240.78 211.49L241.19 211.49L241.61 211.49L242.02 211.49L242.44 211.49L242.86 211.49L243.27 211.49L243.69 211.49L244.10 211.49L244.52 211.49L244.94 211.49L245.35 211.49L245.77 211.49L246.18 211.49L246.60 211.49L247.02 211.49L247.43 211.49L247.85 211.49L248.26 211.49L248.68 211.49L249.10 211.49L249.51 211.49L249.93 211.49L250.34 211.49L250.76 211.49L251.18 211.49L251.59 211.49L252.01 211.49L252.42 211.49L252.84 211.49L253.26 211.49L253.67 211.49L254.09 211.49L254.50 211.49L254.92 211.49L255.34 211.49L255.75 211.49L256.17 211.49L256.58 211.49L257.00 211.49"/>
</g>
<g clip-path="url(#cb)" fill="none" stroke-linejoin="round">
<path stroke="#000000" stroke-width="1.3" d="M331.00 -81.15L331.42 -64.74L331.83 -48.96L332.25 -33.80L332.67 -19.24L333.09 -5.27L333.50 8.12L333.92 20.96L334.34 33.24L334.76 45.00L335.17 56.19L335.59 66.70L336.01 76.45L336.43 85.37L336.84 93.60L337.26 101.36L337.68 108.66L338.10 115.49L338.51 121.87L338.93 127.81L339.35 133.37L339.77 138.59L340.18 143.52L340.60 148.19L341.02 152.65L341.44 157.11L341.85 161.27L342.27 164.42L342.69 166.58L343.10 168.35L343.52 169.83L343.94 171.15L344.36 172.33L344.77 173.36L345.19 174.31L345.61 175.24L346.03 176.20L346.44 177.21L346.86 178.27L347.28 179.34L347.70 180.43L348.11 181.51L348.53 182.57L348.95 183.61L349.37 184.61L349.78 185.56L350.20 186.45L350.62 187.25L351.04 187.97L351.45 188.65L351.87 189.35L352.29 190.04L352.70 190.73L353.12 191.40L353.54 192.04L353.96 192.63L354.37 193.16L354.79 193.62L355.21 194.00L355.63 194.29L356.04 194.47L356.46 194.53L356.88 194.45L357.30 194.21L357.71 193.84L358.13 193.36L358.55 192.80L358.97 192.17L359.38 191.50L359.80 190.80L360.22 190.11L360.64 189.44L361.05 188.81L361.47 188.17L361.89 187.44L362.31 186.66L362.72 185.83L363.14 184.98L363.56 184.12L363.97 183.28L364.39 182.47L364.81 181.71L365.23 181.02L365.64 180.42L366.06 179.93L366.48 179.56L366.90 179.27L367.31 178.98L367.73 178.71L368.15 178.45L368.57 178.21L368.98 178.00L369.40 177.81L369.82 177.66L370.24 177.55L370.65 177.48L371.07 177.46L371.49 177.52L371.91 177.71L372.32 178.01L372.74 178.40L373.16 178.87L373.57 179.41L373.99 179.99L374.41 180.61L374.83 181.24L375.24 182.07L375.66 183.23L376.08 184.64L376.50 186.22L376.91 187.91L377.33 189.61L377.75 191.26L378.17 192.78L378.58 194.09L379.00 195.12L379.42 195.99L379.84 196.87L380.25 197.72L380.67 198.53L381.09 199.25L381.51 199.86L381.92 200.34L382.34 200.64L382.76 200.75L383.18 200.75L383.59 200.73L384.01 200.69L384.43 200.65L384.84 200.60L385.26 200.53L385.68 200.46L386.10 200.38L386.51 200.30L386.93 200.21L387.35 200.11L387.77 200.01L388.18 199.91L388.60 199.80L389.02 199.69L389.44 199.58L389.85 199.48L390.27 199.37L390.69 199.27L391.11 199.17L391.52 199.07L391.94 198.97L392.36 198.86L392.78 198.75L393.19 198.62L393.61 198.50L394.03 198.37L394.44 198.25L394.86 198.12L395.28 198.01L395.70 197.90L396.11 197.80L396.53 197.71L396.95 197.64L397.37 197.58L397.78 197.51L398.20 197.45L398.62 197.39L399.04 197.33L399.45 197.29L399.87 197.25L400.29 197.23L400.71 197.22L401.12 197.24L401.54 197.31L401.96 197.40L402.38 197.54L402.79 197.70L403.21 197.89L403.63 198.09L404.05 198.32L404.46 198.56L404.88 198.81L405.30 199.06L405.71 199.32L406.13 199.58L406.55 199.86L406.97 200.19L407.38 200.58L407.80 201.00L408.22 201.45L408.64 201.92L409.05 202.42L409.47 202.92L409.89 203.42L410.31 203.92L410.72 204.40L411.14 204.86L411.56 205.30L411.98 205.70L412.39 206.05L412.81 206.39L413.23 206.75L413.65 207.12L414.06 207.48L414.48 207.85L414.90 208.19L415.31 208.51L415.73 208.79L416.15 209.04L416.57 209.24L416.98 209.38L417.40 209.46L417.82 209.47L418.24 209.44L418.65 209.41L419.07 209.37L419.49 209.33L419.91 209.28L420.32 209.23L420.74 209.18L421.16 209.12L421.58 209.06L421.99 209.00L422.41 208.94L422.83 208.87L423.25 208.80L423.66 208.73L424.08 208.66L424.50 208.59L424.92 208.52L425.33 208.45L425.75 208.38L426.17 208.31L426.58 208.23L427.00 208.16L427.42 208.09L427.84 208.01L428.25 207.92L428.67 207.82L429.09 207.71L429.51 207.59L429.92 207.47L430.34 207.34L430.76 207.20L431.18 207.05L431.59 206.90L432.01 206.74L432.43 206.57L432.85 206.39L433.26 206.21L433.68 206.03L434.10 205.84L434.52 205.64L434.93 205.44L435.35 205.23L435.77 205.01L436.18 204.79L436.60 204.57L437.02 204.34L437.44 204.11L437.85 203.87L438.27 203.63L438.69 203.39L439.11 203.14L439.52 202.89L439.94 202.63L440.36 202.34L440.78 202.04L441.19 201.71L441.61 201.37L442.03 201.00L442.45 200.62L442.86 200.22L443.28 199.80L443.70 199.37L444.12 198.92L444.53 198.46L444.95 197.99L445.37 197.51L445.79 197.02L446.20 196.52L446.62 196.01L447.04 195.49L447.45 194.96L447.87 194.43L448.29 193.90L448.71 193.36L449.12 192.81L449.54 192.25L449.96 191.67L450.38 191.08L450.79 190.47L451.21 189.84L451.63 189.20L452.05 188.55L452.46 187.88L452.88 187.19L453.30 186.50L453.72 185.79L454.13 185.07L454.55 184.33L454.97 183.59L455.39 182.84L455.80 182.07L456.22 181.30L456.64 180.51L457.05 179.72L457.47 178.92L457.89 178.11L458.31 177.29L458.72 176.46L459.14 175.61L459.56 174.74L459.98 173.85L460.39 172.95L460.81 172.03L461.23 171.09L461.65 170.14L462.06 169.17L462.48 168.19L462.90 167.20L463.32 166.19L463.73 165.18L464.15 164.15L464.57 163.11L464.99 162.07L465.40 161.01L465.82 159.95L466.24 158.88L466.66 157.80L467.07 156.72L467.49 155.64L467.91 154.55L468.32 153.46L468.74 152.37L469.16 151.27L469.58 150.17L469.99 149.05L470.41 147.92L470.83 146.77L471.25 145.60L471.66 144.41L472.08 143.20L472.50 141.96L472.92 140.69L473.33 139.39L473.75 138.05L474.17 136.68L474.59 135.27L475.00 133.82L475.42 132.31L475.84 130.72L476.26 129.07L476.67 127.35L477.09 125.58L477.51 123.74L477.92 121.86L478.34 119.94L478.76 117.97L479.18 115.96L479.59 113.92L480.01 111.72L480.43 109.26L480.85 106.64L481.26 103.95L481.68 101.29L482.10 98.76L482.52 96.43L482.93 94.41L483.35 92.79L483.77 91.37L484.19 89.95L484.60 88.66L485.02 87.61L485.44 86.90L485.86 86.65L486.27 86.92L486.69 87.63L487.11 88.69L487.53 90.00L487.94 91.49L488.36 93.05L488.78 94.92L489.19 97.34L489.61 100.24L490.03 103.56L490.45 107.23L490.86 111.17L491.28 115.36L491.70 120.66L492.12 127.12L492.53 134.23L492.95 141.48L493.37 148.37L493.79 154.41L494.20 159.28L494.62 163.87L495.04 168.34L495.46 172.65L495.87 176.74L496.29 180.59L496.71 184.16L497.13 187.40L497.54 190.27L497.96 192.74L498.38 194.76L498.79 196.50L499.21 198.15L499.63 199.69L500.05 201.13L500.46 202.46L500.88 203.67L501.30 204.76L501.72 205.73L502.13 206.56L502.55 207.25L502.97 207.81L503.39 208.28L503.80 208.74L504.22 209.18L504.64 209.61L505.06 210.01L505.47 210.40L505.89 210.77L506.31 211.12L506.73 211.44L507.14 211.74L507.56 212.01L507.98 212.26L508.40 212.48L508.81 212.67L509.23 212.83L509.65 212.96L510.06 213.06L510.48 213.12L510.90 213.15L511.32 213.16L511.73 213.17L512.15 213.18L512.57 213.18L512.99 213.19L513.40 213.19L513.82 213.20L514.24 213.20L514.66 213.20L515.07 213.20L515.49 213.20L515.91 213.20L516.33 213.20L516.74 213.20L517.16 213.20L517.58 213.20L518.00 213.20L518.41 213.20L518.83 213.20L519.25 213.20L519.66 213.20L520.08 213.20L520.50 213.20L520.92 213.20L521.33 213.20L521.75 213.20L522.17 213.20L522.59 213.20L523.00 213.20L523.42 213.20L523.84 213.20L524.26 213.20L524.67 213.20L525.09 213.20L525.51 213.20L525.93 213.20L526.34 213.20L526.76 213.20L527.18 213.20L527.60 213.20L528.01 213.20L528.43 213.20L528.85 213.20L529.27 213.20L529.68 213.20L530.10 213.20L530.52 213.20L530.93 213.20L531.35 213.20L531.77 213.20L532.19 213.20L532.60 213.20L533.02 213.20L533.44 213.20L533.86 213.20L534.27 213.20L534.69 213.20L535.11 213.20L535.53 213.20L535.94 213.20L536.36 213.20L536.78 213.20L537.20 213.20L537.61 213.20L538.03 213.20L538.45 213.20L538.87 213.20L539.28 213.20L539.70 213.20"/>
<path stroke="#ff0000" stroke-width="1.3" d="M331.00 -81.15L331.42 -66.21L331.83 -51.74L332.25 -37.72L332.67 -24.14L333.09 -10.99L333.50 1.75L333.92 14.09L334.34 26.06L334.76 37.65L335.17 48.89L335.59 59.73L336.01 70.01L336.43 79.59L336.84 88.35L337.26 96.61L337.68 104.44L338.10 111.79L338.51 118.62L338.93 124.89L339.35 130.68L339.77 136.10L340.18 141.16L340.60 145.90L341.02 150.33L341.44 154.54L341.85 158.63L342.27 162.06L342.69 164.36L343.10 166.11L343.52 167.55L343.94 168.80L344.36 169.97L344.77 171.01L345.19 171.95L345.61 172.85L346.03 173.75L346.44 174.71L346.86 175.71L347.28 176.75L347.70 177.82L348.11 178.89L348.53 179.95L348.95 181.01L349.37 182.04L349.78 183.02L350.20 183.96L350.62 184.84L351.04 185.65L351.45 186.37L351.87 187.02L352.29 187.69L352.70 188.36L353.12 189.03L353.54 189.68L353.96 190.30L354.37 190.88L354.79 191.42L355.21 191.89L355.63 192.29L356.04 192.62L356.46 192.84L356.88 192.97L357.30 192.97L357.71 192.84L358.13 192.59L358.55 192.23L358.97 191.79L359.38 191.27L359.80 190.71L360.22 190.12L360.64 189.52L361.05 188.93L361.47 188.36L361.89 187.74L362.31 187.02L362.72 186.23L363.14 185.37L363.56 184.49L363.97 183.60L364.39 182.73L364.81 181.90L365.23 181.14L365.64 180.47L366.06 179.92L366.48 179.51L366.90 179.20L367.31 178.90L367.73 178.60L368.15 178.33L368.57 178.08L368.98 177.85L369.40 177.65L369.82 177.49L370.24 177.36L370.65 177.29L371.07 177.25L371.49 177.31L371.91 177.48L372.32 177.77L372.74 178.14L373.16 178.60L373.57 179.13L373.99 179.70L374.41 180.32L374.83 180.95L375.24 181.81L375.66 183.04L376.08 184.56L376.50 186.28L376.91 188.12L377.33 189.99L377.75 191.80L378.17 193.48L378.58 194.93L379.00 196.07L379.42 197.05L379.84 198.03L380.25 199.00L380.67 199.91L381.09 200.73L381.51 201.43L381.92 201.97L382.34 202.32L382.76 202.44L383.18 202.44L383.59 202.43L384.01 202.41L384.43 202.38L384.84 202.35L385.26 202.32L385.68 202.27L386.10 202.22L386.51 202.17L386.93 202.11L387.35 202.05L387.77 201.98L388.18 201.91L388.60 201.83L389.02 201.75L389.44 201.67L389.85 201.59L390.27 201.50L390.69 201.41L391.11 201.32L391.52 201.23L391.94 201.11L392.36 200.96L392.78 200.78L393.19 200.57L393.61 200.35L394.03 200.12L394.44 199.88L394.86 199.64L395.28 199.42L395.70 199.20L396.11 199.01L396.53 198.85L396.95 198.73L397.37 198.62L397.78 198.51L398.20 198.40L398.62 198.30L399.04 198.22L399.45 198.14L399.87 198.08L400.29 198.04L400.71 198.03L401.12 198.05L401.54 198.11L401.96 198.20L402.38 198.33L402.79 198.48L403.21 198.66L403.63 198.86L404.05 199.07L404.46 199.30L404.88 199.54L405.30 199.78L405.71 200.03L406.13 200.28L406.55 200.56L406.97 200.91L407.38 201.31L407.80 201.76L408.22 202.24L408.64 202.75L409.05 203.27L409.47 203.81L409.89 204.34L410.31 204.87L410.72 205.37L411.14 205.85L411.56 206.28L411.98 206.67L412.39 207.00L412.81 207.31L413.23 207.62L413.65 207.93L414.06 208.25L414.48 208.55L414.90 208.83L415.31 209.09L415.73 209.33L416.15 209.53L416.57 209.68L416.98 209.80L417.40 209.86L417.82 209.87L418.24 209.84L418.65 209.81L419.07 209.77L419.49 209.73L419.91 209.69L420.32 209.64L420.74 209.59L421.16 209.53L421.58 209.47L421.99 209.41L422.41 209.35L422.83 209.29L423.25 209.22L423.66 209.15L424.08 209.09L424.50 209.02L424.92 208.95L425.33 208.88L425.75 208.82L426.17 208.75L426.58 208.69L427.00 208.63L427.42 208.56L427.84 208.49L428.25 208.40L428.67 208.31L429.09 208.21L429.51 208.11L429.92 207.99L430.34 207.87L430.76 207.75L431.18 207.61L431.59 207.47L432.01 207.32L432.43 207.17L432.85 207.01L433.26 206.84L433.68 206.67L434.10 206.50L434.52 206.31L434.93 206.13L435.35 205.94L435.77 205.74L436.18 205.54L436.60 205.34L437.02 205.13L437.44 204.92L437.85 204.70L438.27 204.48L438.69 204.26L439.11 204.04L439.52 203.81L439.94 203.57L440.36 203.32L440.78 203.04L441.19 202.75L441.61 202.44L442.03 202.12L442.45 201.78L442.86 201.42L443.28 201.05L443.70 200.67L444.12 200.27L444.53 199.87L444.95 199.45L445.37 199.03L445.79 198.59L446.20 198.15L446.62 197.70L447.04 197.24L447.45 196.78L447.87 196.31L448.29 195.83L448.71 195.36L449.12 194.87L449.54 194.38L449.96 193.87L450.38 193.34L450.79 192.80L451.21 192.25L451.63 191.68L452.05 191.10L452.46 190.51L452.88 189.91L453.30 189.29L453.72 188.67L454.13 188.03L454.55 187.38L454.97 186.72L455.39 186.06L455.80 185.38L456.22 184.70L456.64 184.00L457.05 183.30L457.47 182.59L457.89 181.88L458.31 181.15L458.72 180.42L459.14 179.67L459.56 178.90L459.98 178.12L460.39 177.32L460.81 176.50L461.23 175.67L461.65 174.83L462.06 173.98L462.48 173.11L462.90 172.24L463.32 171.35L463.73 170.45L464.15 169.54L464.57 168.63L464.99 167.70L465.40 166.77L465.82 165.83L466.24 164.88L466.66 163.93L467.07 162.98L467.49 162.02L467.91 161.06L468.32 160.10L468.74 159.13L469.16 158.16L469.58 157.18L469.99 156.19L470.41 155.19L470.83 154.18L471.25 153.15L471.66 152.09L472.08 151.02L472.50 149.93L472.92 148.80L473.33 147.65L473.75 146.47L474.17 145.26L474.59 144.01L475.00 142.73L475.42 141.39L475.84 139.99L476.26 138.53L476.67 137.01L477.09 135.44L477.51 133.82L477.92 132.16L478.34 130.46L478.76 128.72L479.18 126.94L479.59 125.14L480.01 123.19L480.43 121.01L480.85 118.70L481.26 116.32L481.68 113.97L482.10 111.73L482.52 109.67L482.93 107.89L483.35 106.45L483.77 105.19L484.19 103.94L484.60 102.81L485.02 101.87L485.44 101.25L485.86 101.04L486.27 101.28L486.69 101.91L487.11 102.84L487.53 104.01L487.94 105.32L488.36 106.71L488.78 108.37L489.19 110.51L489.61 113.08L490.03 116.02L490.45 119.27L490.86 122.77L491.28 126.48L491.70 131.17L492.12 136.89L492.53 143.18L492.95 149.61L493.37 155.71L493.79 161.05L494.20 165.37L494.62 169.44L495.04 173.40L495.46 177.21L495.87 180.84L496.29 184.25L496.71 187.41L497.13 190.28L497.54 192.82L497.96 195.01L498.38 196.80L498.79 198.35L499.21 199.80L499.63 201.18L500.05 202.45L500.46 203.63L500.88 204.71L501.30 205.68L501.72 206.53L502.13 207.27L502.55 207.89L502.97 208.38L503.39 208.80L503.80 209.21L504.22 209.61L504.64 209.98L505.06 210.35L505.47 210.69L505.89 211.02L506.31 211.33L506.73 211.62L507.14 211.89L507.56 212.13L507.98 212.35L508.40 212.55L508.81 212.72L509.23 212.87L509.65 212.98L510.06 213.07L510.48 213.13L510.90 213.15L511.32 213.16L511.73 213.17L512.15 213.18L512.57 213.18L512.99 213.19L513.40 213.19L513.82 213.20L514.24 213.20L514.66 213.20L515.07 213.20L515.49 213.20L515.91 213.20L516.33 213.20L516.74 213.20L517.16 213.20L517.58 213.20L518.00 213.20L518.41 213.20L518.83 213.20L519.25 213.20L519.66 213.20L520.08 213.20L520.50 213.20L520.92 213.20L521.33 213.20L521.75 213.20L522.17 213.20L522.59 213.20L523.00 213.20L523.42 213.20L523.84 213.20L524.26 213.20L524.67 213.20L525.09 213.20L525.51 213.20L525.93 213.20L526.34 213.20L526.76 213.20L527.18 213.20L527.60 213.20L528.01 213.20L528.43 213.20L528.85 213.20L529.27 213.20L529.68 213.20L530.10 213.20L530.52 213.20L530.93 213.20L531.35 213.20L531.77 213.20L532.19 213.20L532.60 213.20L533.02 213.20L533.44 213.20L533.86 213.20L534.27 213.20L534.69 213.20L535.11 213.20L535.53 213.20L535.94 213.20L536.36 213.20L536.78 213.20L537.20 213.20L537.61 213.20L538.03 213.20L538.45 213.20L538.87 213.20L539.28 213.20L539.70 213.20"/>
<path stroke="#0000ff" stroke-width="1.3" d="M331.00 -81.15L331.42 -67.52L331.83 -54.22L332.25 -41.24L332.67 -28.57L333.09 -16.19L333.50 -4.09L333.92 7.74L334.34 19.30L334.76 30.63L335.17 41.72L335.59 52.59L336.01 63.18L336.43 73.29L336.84 82.71L337.26 91.41L337.68 99.74L338.10 107.65L338.51 115.03L338.93 121.79L339.35 127.86L339.77 133.50L340.18 138.75L340.60 143.62L341.02 148.10L341.44 152.20L341.85 156.13L342.27 159.64L342.69 162.24L343.10 163.98L343.52 165.38L343.94 166.57L344.36 167.65L344.77 168.69L345.19 169.62L345.61 170.48L346.03 171.34L346.44 172.24L346.86 173.22L347.28 174.26L347.70 175.33L348.11 176.43L348.53 177.54L348.95 178.65L349.37 179.75L349.78 180.81L350.20 181.84L350.62 182.81L351.04 183.71L351.45 184.53L351.87 185.26L352.29 185.97L352.70 186.69L353.12 187.42L353.54 188.14L353.96 188.83L354.37 189.49L354.79 190.11L355.21 190.67L355.63 191.16L356.04 191.57L356.46 191.88L356.88 192.10L357.30 192.19L357.71 192.15L358.13 191.99L358.55 191.71L358.97 191.34L359.38 190.91L359.80 190.42L360.22 189.89L360.64 189.36L361.05 188.83L361.47 188.33L361.89 187.85L362.31 187.29L362.72 186.69L363.14 186.04L363.56 185.36L363.97 184.69L364.39 184.03L364.81 183.40L365.23 182.81L365.64 182.30L366.06 181.86L366.48 181.53L366.90 181.28L367.31 181.04L367.73 180.80L368.15 180.58L368.57 180.38L368.98 180.19L369.40 180.03L369.82 179.90L370.24 179.80L370.65 179.73L371.07 179.70L371.49 179.74L371.91 179.88L372.32 180.11L372.74 180.43L373.16 180.82L373.57 181.27L373.99 181.76L374.41 182.29L374.83 182.84L375.24 183.59L375.66 184.68L376.08 186.02L376.50 187.55L376.91 189.19L377.33 190.88L377.75 192.53L378.17 194.08L378.58 195.44L379.00 196.56L379.42 197.55L379.84 198.58L380.25 199.60L380.67 200.57L381.09 201.45L381.51 202.21L381.92 202.80L382.34 203.18L382.76 203.31L383.18 203.31L383.59 203.30L384.01 203.28L384.43 203.26L384.84 203.23L385.26 203.19L385.68 203.15L386.10 203.11L386.51 203.06L386.93 203.01L387.35 202.95L387.77 202.90L388.18 202.84L388.60 202.78L389.02 202.71L389.44 202.65L389.85 202.59L390.27 202.52L390.69 202.46L391.11 202.40L391.52 202.34L391.94 202.27L392.36 202.20L392.78 202.12L393.19 202.04L393.61 201.95L394.03 201.86L394.44 201.77L394.86 201.68L395.28 201.59L395.70 201.51L396.11 201.44L396.53 201.38L396.95 201.32L397.37 201.27L397.78 201.22L398.20 201.18L398.62 201.13L399.04 201.09L399.45 201.05L399.87 201.02L400.29 201.01L400.71 201.00L401.12 201.01L401.54 201.06L401.96 201.13L402.38 201.22L402.79 201.34L403.21 201.47L403.63 201.62L404.05 201.78L404.46 201.95L404.88 202.13L405.30 202.31L405.71 202.50L406.13 202.68L406.55 202.89L406.97 203.13L407.38 203.41L407.80 203.72L408.22 204.06L408.64 204.41L409.05 204.78L409.47 205.15L409.89 205.52L410.31 205.89L410.72 206.26L411.14 206.60L411.56 206.93L411.98 207.23L412.39 207.49L412.81 207.75L413.23 208.02L413.65 208.29L414.06 208.57L414.48 208.84L414.90 209.10L415.31 209.35L415.73 209.56L416.15 209.75L416.57 209.90L416.98 210.01L417.40 210.07L417.82 210.08L418.24 210.06L418.65 210.03L419.07 210.00L419.49 209.96L419.91 209.92L420.32 209.88L420.74 209.83L421.16 209.78L421.58 209.73L421.99 209.67L422.41 209.61L422.83 209.56L423.25 209.50L423.66 209.44L424.08 209.38L424.50 209.32L424.92 209.26L425.33 209.20L425.75 209.14L426.17 209.08L426.58 209.03L427.00 208.98L427.42 208.92L427.84 208.86L428.25 208.79L428.67 208.72L429.09 208.63L429.51 208.55L429.92 208.45L430.34 208.35L430.76 208.24L431.18 208.13L431.59 208.01L432.01 207.89L432.43 207.76L432.85 207.63L433.26 207.49L433.68 207.35L434.10 207.20L434.52 207.05L434.93 206.89L435.35 206.73L435.77 206.57L436.18 206.40L436.60 206.23L437.02 206.06L437.44 205.89L437.85 205.71L438.27 205.52L438.69 205.34L439.11 205.15L439.52 204.97L439.94 204.77L440.36 204.56L440.78 204.33L441.19 204.09L441.61 203.83L442.03 203.56L442.45 203.28L442.86 202.99L443.28 202.68L443.70 202.37L444.12 202.04L444.53 201.70L444.95 201.36L445.37 201.01L445.79 200.65L446.20 200.28L446.62 199.91L447.04 199.53L447.45 199.14L447.87 198.76L448.29 198.37L448.71 197.97L449.12 197.57L449.54 197.16L449.96 196.74L450.38 196.30L450.79 195.86L451.21 195.40L451.63 194.93L452.05 194.45L452.46 193.96L452.88 193.46L453.30 192.95L453.72 192.43L454.13 191.90L454.55 191.37L454.97 190.82L455.39 190.27L455.80 189.71L456.22 189.14L456.64 188.57L457.05 187.98L457.47 187.40L457.89 186.80L458.31 186.21L458.72 185.60L459.14 184.97L459.56 184.34L459.98 183.69L460.39 183.03L460.81 182.35L461.23 181.66L461.65 180.97L462.06 180.26L462.48 179.54L462.90 178.81L463.32 178.08L463.73 177.33L464.15 176.58L464.57 175.82L464.99 175.06L465.40 174.28L465.82 173.50L466.24 172.72L466.66 171.93L467.07 171.14L467.49 170.34L467.91 169.55L468.32 168.75L468.74 167.95L469.16 167.15L469.58 166.34L469.99 165.52L470.41 164.69L470.83 163.85L471.25 162.99L471.66 162.12L472.08 161.23L472.50 160.32L472.92 159.39L473.33 158.44L473.75 157.46L474.17 156.45L474.59 155.42L475.00 154.36L475.42 153.25L475.84 152.09L476.26 150.87L476.67 149.62L477.09 148.31L477.51 146.97L477.92 145.59L478.34 144.18L478.76 142.73L479.18 141.26L479.59 139.77L480.01 138.15L480.43 136.34L480.85 134.42L481.26 132.45L481.68 130.50L482.10 128.64L482.52 126.94L482.93 125.46L483.35 124.27L483.77 123.23L484.19 122.19L484.60 121.25L485.02 120.48L485.44 119.97L485.86 119.79L486.27 119.99L486.69 120.52L487.11 121.30L487.53 122.27L487.94 123.37L488.36 124.53L488.78 125.91L489.19 127.69L489.61 129.83L490.03 132.28L490.45 134.98L490.86 137.89L491.28 140.98L491.70 144.88L492.12 149.63L492.53 154.86L492.95 160.20L493.37 165.28L493.79 169.72L494.20 173.31L494.62 176.69L495.04 179.99L495.46 183.16L495.87 186.18L496.29 189.02L496.71 191.64L497.13 194.03L497.54 196.15L497.96 197.97L498.38 199.46L498.79 200.75L499.21 201.97L499.63 203.11L500.05 204.18L500.46 205.16L500.88 206.06L501.30 206.87L501.72 207.58L502.13 208.20L502.55 208.72L502.97 209.13L503.39 209.49L503.80 209.83L504.22 210.16L504.64 210.48L505.06 210.78L505.47 211.08L505.89 211.35L506.31 211.61L506.73 211.85L507.14 212.08L507.56 212.29L507.98 212.47L508.40 212.64L508.81 212.78L509.23 212.91L509.65 213.00L510.06 213.08L510.48 213.13L510.90 213.15L511.32 213.16L511.73 213.17L512.15 213.18L512.57 213.18L512.99 213.19L513.40 213.19L513.82 213.20L514.24 213.20L514.66 213.20L515.07 213.20L515.49 213.20L515.91 213.20L516.33 213.20L516.74 213.20L517.16 213.20L517.58 213.20L518.00 213.20L518.41 213.20L518.83 213.20L519.25 213.20L519.66 213.20L520.08 213.20L520.50 213.20L520.92 213.20L521.33 213.20L521.75 213.20L522.17 213.20L522.59 213.20L523.00 213.20L523.42 213.20L523.84 213.20L524.26 213.20L524.67 213.20L525.09 213.20L525.51 213.20L525.93 213.20L526.34 213.20L526.76 213.20L527.18 213.20L527.60 213.20L528.01 213.20L528.43 213.20L528.85 213.20L529.27 213.20L529.68 213.20L530.10 213.20L530.52 213.20L530.93 213.20L531.35 213.20L531.77 213.20L532.19 213.20L532.60 213.20L533.02 213.20L533.44 213.20L533.86 213.20L534.27 213.20L534.69 213.20L535.11 213.20L535.53 213.20L535.94 213.20L536.36 213.20L536.78 213.20L537.20 213.20L537.61 213.20L538.03 213.20L538.45 213.20L538.87 213.20L539.28 213.20L539.70 213.20"/>
<path stroke="#008000" stroke-width="2" d="M331.00 -81.15L331.42 -68.69L331.83 -56.45L332.25 -44.41L332.67 -32.57L333.09 -20.92L333.50 -9.45L333.92 1.85L334.34 12.99L334.76 23.98L335.17 34.82L335.59 45.53L336.01 56.17L336.43 66.59L336.84 76.56L337.26 85.81L337.68 94.57L338.10 103.02L338.51 111.01L338.93 118.36L339.35 124.89L339.77 130.78L340.18 136.25L340.60 141.30L341.02 145.91L341.44 150.05L341.85 153.80L342.27 157.29L342.69 160.11L343.10 161.97L343.52 163.34L343.94 164.46L344.36 165.45L344.77 166.43L345.19 167.34L345.61 168.17L346.03 168.97L346.44 169.81L346.86 170.74L347.28 171.76L347.70 172.83L348.11 173.95L348.53 175.10L348.95 176.27L349.37 177.44L349.78 178.59L350.20 179.71L350.62 180.78L351.04 181.78L351.45 182.71L351.87 183.54L352.29 184.30L352.70 185.09L353.12 185.88L353.54 186.68L353.96 187.46L354.37 188.21L354.79 188.91L355.21 189.56L355.63 190.14L356.04 190.64L356.46 191.05L356.88 191.34L357.30 191.51L357.71 191.54L358.13 191.45L358.55 191.24L358.97 190.95L359.38 190.58L359.80 190.16L360.22 189.70L360.64 189.22L361.05 188.74L361.47 188.27L361.89 187.84L362.31 187.36L362.72 186.82L363.14 186.24L363.56 185.63L363.97 185.02L364.39 184.42L364.81 183.84L365.23 183.30L365.64 182.81L366.06 182.40L366.48 182.09L366.90 181.85L367.31 181.61L367.73 181.39L368.15 181.18L368.57 180.98L368.98 180.81L369.40 180.65L369.82 180.52L370.24 180.42L370.65 180.35L371.07 180.32L371.49 180.34L371.91 180.47L372.32 180.69L372.74 180.98L373.16 181.35L373.57 181.78L373.99 182.25L374.41 182.75L374.83 183.28L375.24 184.01L375.66 185.08L376.08 186.40L376.50 187.92L376.91 189.55L377.33 191.23L377.75 192.88L378.17 194.44L378.58 195.82L379.00 196.96L379.42 197.98L379.84 199.05L380.25 200.11L380.67 201.13L381.09 202.05L381.51 202.85L381.92 203.47L382.34 203.88L382.76 204.02L383.18 204.02L383.59 204.01L384.01 204.00L384.43 203.98L384.84 203.95L385.26 203.93L385.68 203.89L386.10 203.86L386.51 203.82L386.93 203.78L387.35 203.74L387.77 203.69L388.18 203.64L388.60 203.59L389.02 203.54L389.44 203.49L389.85 203.44L390.27 203.39L390.69 203.34L391.11 203.29L391.52 203.24L391.94 203.18L392.36 203.12L392.78 203.05L393.19 202.98L393.61 202.90L394.03 202.82L394.44 202.74L394.86 202.66L395.28 202.58L395.70 202.51L396.11 202.45L396.53 202.39L396.95 202.34L397.37 202.29L397.78 202.25L398.20 202.20L398.62 202.16L399.04 202.12L399.45 202.09L399.87 202.06L400.29 202.05L400.71 202.04L401.12 202.05L401.54 202.09L401.96 202.16L402.38 202.24L402.79 202.34L403.21 202.46L403.63 202.59L404.05 202.73L404.46 202.89L404.88 203.05L405.30 203.21L405.71 203.37L406.13 203.54L406.55 203.72L406.97 203.94L407.38 204.19L407.80 204.47L408.22 204.78L408.64 205.10L409.05 205.43L409.47 205.76L409.89 206.10L410.31 206.44L410.72 206.77L411.14 207.08L411.56 207.38L411.98 207.65L412.39 207.89L412.81 208.12L413.23 208.37L413.65 208.62L414.06 208.87L414.48 209.12L414.90 209.36L415.31 209.58L415.73 209.78L416.15 209.95L416.57 210.09L416.98 210.19L417.40 210.25L417.82 210.26L418.24 210.24L418.65 210.22L419.07 210.19L419.49 210.16L419.91 210.12L420.32 210.08L420.74 210.04L421.16 210.00L421.58 209.95L421.99 209.90L422.41 209.85L422.83 209.80L423.25 209.75L423.66 209.70L424.08 209.65L424.50 209.60L424.92 209.55L425.33 209.50L425.75 209.45L426.17 209.40L426.58 209.36L427.00 209.32L427.42 209.28L427.84 209.23L428.25 209.18L428.67 209.12L429.09 209.06L429.51 208.99L429.92 208.92L430.34 208.84L430.76 208.76L431.18 208.67L431.59 208.58L432.01 208.49L432.43 208.39L432.85 208.29L433.26 208.18L433.68 208.07L434.10 207.96L434.52 207.84L434.93 207.72L435.35 207.60L435.77 207.48L436.18 207.35L436.60 207.22L437.02 207.09L437.44 206.95L437.85 206.82L438.27 206.68L438.69 206.54L439.11 206.40L439.52 206.25L439.94 206.10L440.36 205.94L440.78 205.77L441.19 205.58L441.61 205.39L442.03 205.18L442.45 204.97L442.86 204.74L443.28 204.51L443.70 204.27L444.12 204.02L444.53 203.76L444.95 203.50L445.37 203.23L445.79 202.95L446.20 202.67L446.62 202.38L447.04 202.09L447.45 201.80L447.87 201.50L448.29 201.20L448.71 200.90L449.12 200.59L449.54 200.28L449.96 199.96L450.38 199.62L450.79 199.28L451.21 198.93L451.63 198.57L452.05 198.20L452.46 197.82L452.88 197.44L453.30 197.05L453.72 196.65L454.13 196.24L454.55 195.83L454.97 195.41L455.39 194.99L455.80 194.56L456.22 194.12L456.64 193.68L457.05 193.24L457.47 192.79L457.89 192.33L458.31 191.87L458.72 191.40L459.14 190.92L459.56 190.43L459.98 189.94L460.39 189.43L460.81 188.91L461.23 188.38L461.65 187.84L462.06 187.30L462.48 186.75L462.90 186.19L463.32 185.62L463.73 185.05L464.15 184.47L464.57 183.89L464.99 183.30L465.40 182.71L465.82 182.11L466.24 181.51L466.66 180.90L467.07 180.29L467.49 179.68L467.91 179.07L468.32 178.46L468.74 177.84L469.16 177.22L469.58 176.60L469.99 175.97L470.41 175.33L470.83 174.69L471.25 174.03L471.66 173.36L472.08 172.67L472.50 171.98L472.92 171.26L473.33 170.53L473.75 169.78L474.17 169.00L474.59 168.21L475.00 167.39L475.42 166.54L475.84 165.64L476.26 164.71L476.67 163.74L477.09 162.74L477.51 161.71L477.92 160.65L478.34 159.56L478.76 158.45L479.18 157.32L479.59 156.17L480.01 154.92L480.43 153.53L480.85 152.05L481.26 150.54L481.68 149.04L482.10 147.60L482.52 146.29L482.93 145.15L483.35 144.24L483.77 143.44L484.19 142.65L484.60 141.93L485.02 141.34L485.44 140.95L485.86 140.82L486.27 140.98L486.69 141.39L487.11 142.00L487.53 142.75L487.94 143.60L488.36 144.50L488.78 145.57L489.19 146.95L489.61 148.61L490.03 150.50L490.45 152.59L490.86 154.84L491.28 157.23L491.70 160.25L492.12 163.92L492.53 167.96L492.95 172.08L493.37 176.01L493.79 179.44L494.20 182.21L494.62 184.83L495.04 187.38L495.46 189.83L495.87 192.16L496.29 194.36L496.71 196.39L497.13 198.24L497.54 199.88L497.96 201.29L498.38 202.45L498.79 203.45L499.21 204.39L499.63 205.28L500.05 206.11L500.46 206.87L500.88 207.57L501.30 208.20L501.72 208.76L502.13 209.24L502.55 209.65L502.97 209.97L503.39 210.25L503.80 210.52L504.22 210.78L504.64 211.03L505.06 211.27L505.47 211.50L505.89 211.72L506.31 211.93L506.73 212.12L507.14 212.30L507.56 212.46L507.98 212.61L508.40 212.74L508.81 212.85L509.23 212.95L509.65 213.03L510.06 213.09L510.48 213.13L510.90 213.15L511.32 213.16L511.73 213.17L512.15 213.18L512.57 213.18L512.99 213.19L513.40 213.19L513.82 213.20L514.24 213.20L514.66 213.20L515.07 213.20L515.49 213.20L515.91 213.20L516.33 213.20L516.74 213.20L517.16 213.20L517.58 213.20L518.00 213.20L518.41 213.20L518.83 213.20L519.25 213.20L519.66 213.20L520.08 213.20L520.50 213.20L520.92 213.20L521.33 213.20L521.75 213.20L522.17 213.20L522.59 213.20L523.00 213.20L523.42 213.20L523.84 213.20L524.26 213.20L524.67 213.20L525.09 213.20L525.51 213.20L525.93 213.20L526.34 213.20L526.76 213.20L527.18 213.20L527.60 213.20L528.01 213.20L528.43 213.20L528.85 213.20L529.27 213.20L529.68 213.20L530.10 213.20L530.52 213.20L530.93 213.20L531.35 213.20L531.77 213.20L532.19 213.20L532.60 213.20L533.02 213.20L533.44 213.20L533.86 213.20L534.27 213.20L534.69 213.20L535.11 213.20L535.53 213.20L535.94 213.20L536.36 213.20L536.78 213.20L537.20 213.20L537.61 213.20L538.03 213.20L538.45 213.20L538.87 213.20L539.28 213.20L539.70 213.20"/>
<path stroke="#990099" stroke-width="1.3" d="M331.00 -81.15L331.42 -69.75L331.83 -58.47L332.25 -47.30L332.67 -36.23L333.09 -25.26L333.50 -14.38L333.92 -3.60L334.34 7.10L334.76 17.72L335.17 28.27L335.59 38.75L336.01 49.18L336.43 59.66L336.84 69.97L337.26 79.81L337.68 88.97L338.10 97.88L338.51 106.47L338.93 114.49L339.35 121.68L339.77 127.91L340.18 133.63L340.60 138.91L341.02 143.70L341.44 147.96L341.85 151.67L342.27 155.05L342.69 157.97L343.10 160.05L343.52 161.41L343.94 162.49L344.36 163.39L344.77 164.24L345.19 165.11L345.61 165.91L346.03 166.66L346.44 167.44L346.86 168.29L347.28 169.26L347.70 170.31L348.11 171.44L348.53 172.63L348.95 173.85L349.37 175.09L349.78 176.33L350.20 177.54L350.62 178.72L351.04 179.83L351.45 180.86L351.87 181.80L352.29 182.64L352.70 183.49L353.12 184.36L353.54 185.24L353.96 186.10L354.37 186.94L354.79 187.75L355.21 188.49L355.63 189.17L356.04 189.76L356.46 190.25L356.88 190.63L357.30 190.88L357.71 190.98L358.13 190.95L358.55 190.80L358.97 190.56L359.38 190.25L359.80 189.89L360.22 189.48L360.64 189.05L361.05 188.62L361.47 188.20L361.89 187.80L362.31 187.38L362.72 186.90L363.14 186.39L363.56 185.84L363.97 185.29L364.39 184.74L364.81 184.21L365.23 183.71L365.64 183.26L366.06 182.87L366.48 182.57L366.90 182.34L367.31 182.12L367.73 181.91L368.15 181.70L368.57 181.51L368.98 181.34L369.40 181.19L369.82 181.06L370.24 180.96L370.65 180.89L371.07 180.86L371.49 180.87L371.91 180.98L372.32 181.19L372.74 181.47L373.16 181.81L373.57 182.22L373.99 182.67L374.41 183.16L374.83 183.67L375.24 184.38L375.66 185.43L376.08 186.74L376.50 188.24L376.91 189.87L377.33 191.54L377.75 193.19L378.17 194.75L378.58 196.14L379.00 197.30L379.42 198.36L379.84 199.46L380.25 200.56L380.67 201.61L381.09 202.58L381.51 203.41L381.92 204.06L382.34 204.48L382.76 204.64L383.18 204.63L383.59 204.63L384.01 204.62L384.43 204.60L384.84 204.58L385.26 204.56L385.68 204.54L386.10 204.51L386.51 204.48L386.93 204.45L387.35 204.42L387.77 204.38L388.18 204.35L388.60 204.31L389.02 204.27L389.44 204.23L389.85 204.19L390.27 204.15L390.69 204.10L391.11 204.06L391.52 204.02L391.94 203.98L392.36 203.92L392.78 203.86L393.19 203.80L393.61 203.73L394.03 203.66L394.44 203.58L394.86 203.51L395.28 203.44L395.70 203.38L396.11 203.32L396.53 203.27L396.95 203.22L397.37 203.18L397.78 203.14L398.20 203.10L398.62 203.06L399.04 203.02L399.45 202.99L399.87 202.97L400.29 202.95L400.71 202.95L401.12 202.96L401.54 202.99L401.96 203.05L402.38 203.12L402.79 203.22L403.21 203.32L403.63 203.44L404.05 203.57L404.46 203.70L404.88 203.84L405.30 203.99L405.71 204.14L406.13 204.28L406.55 204.45L406.97 204.65L407.38 204.88L407.80 205.13L408.22 205.40L408.64 205.69L409.05 205.99L409.47 206.30L409.89 206.61L410.31 206.92L410.72 207.21L411.14 207.50L411.56 207.77L411.98 208.01L412.39 208.24L412.81 208.45L413.23 208.67L413.65 208.90L414.06 209.13L414.48 209.36L414.90 209.58L415.31 209.78L415.73 209.96L416.15 210.12L416.57 210.25L416.98 210.34L417.40 210.39L417.82 210.40L418.24 210.39L418.65 210.37L419.07 210.34L419.49 210.32L419.91 210.28L420.32 210.25L420.74 210.21L421.16 210.17L421.58 210.12L421.99 210.08L422.41 210.03L422.83 209.99L423.25 209.94L423.66 209.89L424.08 209.84L424.50 209.80L424.92 209.75L425.33 209.71L425.75 209.66L426.17 209.62L426.58 209.58L427.00 209.55L427.42 209.51L427.84 209.47L428.25 209.43L428.67 209.38L429.09 209.33L429.51 209.27L429.92 209.21L430.34 209.14L430.76 209.08L431.18 209.00L431.59 208.93L432.01 208.85L432.43 208.76L432.85 208.68L433.26 208.59L433.68 208.50L434.10 208.40L434.52 208.31L434.93 208.20L435.35 208.10L435.77 208.00L436.18 207.89L436.60 207.78L437.02 207.67L437.44 207.56L437.85 207.44L438.27 207.33L438.69 207.21L439.11 207.09L439.52 206.97L439.94 206.84L440.36 206.71L440.78 206.56L441.19 206.41L441.61 206.24L442.03 206.07L442.45 205.89L442.86 205.71L443.28 205.51L443.70 205.31L444.12 205.10L444.53 204.89L444.95 204.67L445.37 204.44L445.79 204.21L446.20 203.98L446.62 203.74L447.04 203.50L447.45 203.25L447.87 203.00L448.29 202.75L448.71 202.50L449.12 202.25L449.54 201.98L449.96 201.71L450.38 201.44L450.79 201.15L451.21 200.86L451.63 200.56L452.05 200.25L452.46 199.94L452.88 199.61L453.30 199.29L453.72 198.96L454.13 198.62L454.55 198.27L454.97 197.92L455.39 197.57L455.80 197.21L456.22 196.85L456.64 196.48L457.05 196.11L457.47 195.73L457.89 195.35L458.31 194.97L458.72 194.58L459.14 194.18L459.56 193.77L459.98 193.35L460.39 192.93L460.81 192.50L461.23 192.06L461.65 191.61L462.06 191.15L462.48 190.69L462.90 190.23L463.32 189.75L463.73 189.28L464.15 188.79L464.57 188.31L464.99 187.81L465.40 187.32L465.82 186.82L466.24 186.32L466.66 185.81L467.07 185.30L467.49 184.79L467.91 184.28L468.32 183.77L468.74 183.26L469.16 182.74L469.58 182.22L469.99 181.69L470.41 181.16L470.83 180.62L471.25 180.07L471.66 179.51L472.08 178.94L472.50 178.36L472.92 177.76L473.33 177.15L473.75 176.52L474.17 175.88L474.59 175.21L475.00 174.53L475.42 173.82L475.84 173.07L476.26 172.29L476.67 171.49L477.09 170.65L477.51 169.79L477.92 168.90L478.34 167.99L478.76 167.06L479.18 166.12L479.59 165.16L480.01 164.11L480.43 162.95L480.85 161.72L481.26 160.45L481.68 159.19L482.10 158.00L482.52 156.90L482.93 155.95L483.35 155.19L483.77 154.52L484.19 153.86L484.60 153.26L485.02 152.77L485.44 152.44L485.86 152.34L486.27 152.48L486.69 152.82L487.11 153.34L487.53 153.97L487.94 154.69L488.36 155.45L488.78 156.35L489.19 157.51L489.61 158.90L490.03 160.49L490.45 162.24L490.86 164.13L491.28 166.14L491.70 168.67L492.12 171.75L492.53 175.14L492.95 178.59L493.37 181.88L493.79 184.76L494.20 187.09L494.62 189.29L495.04 191.42L495.46 193.48L495.87 195.44L496.29 197.29L496.71 198.99L497.13 200.55L497.54 201.93L497.96 203.11L498.38 204.09L498.79 204.93L499.21 205.72L499.63 206.47L500.05 207.17L500.46 207.81L500.88 208.40L501.30 208.94L501.72 209.41L502.13 209.82L502.55 210.16L502.97 210.43L503.39 210.67L503.80 210.90L504.22 211.12L504.64 211.34L505.06 211.54L505.47 211.74L505.89 211.92L506.31 212.10L506.73 212.26L507.14 212.41L507.56 212.55L507.98 212.68L508.40 212.79L508.81 212.89L509.23 212.98L509.65 213.04L510.06 213.10L510.48 213.13L510.90 213.15L511.32 213.16L511.73 213.17L512.15 213.18L512.57 213.18L512.99 213.19L513.40 213.19L513.82 213.20L514.24 213.20L514.66 213.20L515.07 213.20L515.49 213.20L515.91 213.20L516.33 213.20L516.74 213.20L517.16 213.20L517.58 213.20L518.00 213.20L518.41 213.20L518.83 213.20L519.25 213.20L519.66 213.20L520.08 213.20L520.50 213.20L520.92 213.20L521.33 213.20L521.75 213.20L522.17 213.20L522.59 213.20L523.00 213.20L523.42 213.20L523.84 213.20L524.26 213.20L524.67 213.20L525.09 213.20L525.51 213.20L525.93 213.20L526.34 213.20L526.76 213.20L527.18 213.20L527.60 213.20L528.01 213.20L528.43 213.20L528.85 213.20L529.27 213.20L529.68 213.20L530.10 213.20L530.52 213.20L530.93 213.20L531.35 213.20L531.77 213.20L532.19 213.20L532.60 213.20L533.02 213.20L533.44 213.20L533.86 213.20L534.27 213.20L534.69 213.20L535.11 213.20L535.53 213.20L535.94 213.20L536.36 213.20L536.78 213.20L537.20 213.20L537.61 213.20L538.03 213.20L538.45 213.20L538.87 213.20L539.28 213.20L539.70 213.20"/>
<path stroke="#ff33ff" stroke-width="1.3" d="M331.00 -81.15L331.42 -70.71L331.83 -60.30L332.25 -49.92L332.67 -39.57L333.09 -29.24L333.50 -18.94L333.92 -8.66L334.34 1.60L334.76 11.84L335.17 22.06L335.59 32.27L336.01 42.46L336.43 52.72L336.84 63.11L337.26 73.33L337.68 83.05L338.10 92.26L338.51 101.38L338.93 110.09L339.35 118.04L339.77 124.89L340.18 130.88L340.60 136.41L341.02 141.43L341.44 145.88L341.85 149.70L342.27 152.97L342.69 155.88L343.10 158.15L343.52 159.59L343.94 160.63L344.36 161.45L344.77 162.19L345.19 162.95L345.61 163.71L346.03 164.42L346.44 165.12L346.86 165.89L347.28 166.77L347.70 167.79L348.11 168.91L348.53 170.11L348.95 171.38L349.37 172.69L349.78 174.01L350.20 175.32L350.62 176.61L351.04 177.84L351.45 178.99L351.87 180.04L352.29 180.97L352.70 181.89L353.12 182.83L353.54 183.79L353.96 184.75L354.37 185.68L354.79 186.58L355.21 187.43L355.63 188.21L356.04 188.90L356.46 189.48L356.88 189.95L357.30 190.28L357.71 190.45L358.13 190.47L358.55 190.37L358.97 190.18L359.38 189.93L359.80 189.61L360.22 189.26L360.64 188.88L361.05 188.49L361.47 188.11L361.89 187.74L362.31 187.38L362.72 186.96L363.14 186.50L363.56 186.01L363.97 185.51L364.39 185.01L364.81 184.53L365.23 184.07L365.64 183.66L366.06 183.30L366.48 183.01L366.90 182.78L367.31 182.58L367.73 182.37L368.15 182.18L368.57 181.99L368.98 181.83L369.40 181.68L369.82 181.55L370.24 181.45L370.65 181.38L371.07 181.35L371.49 181.35L371.91 181.45L372.32 181.64L372.74 181.90L373.16 182.23L373.57 182.62L373.99 183.05L374.41 183.52L374.83 184.02L375.24 184.71L375.66 185.74L376.08 187.04L376.50 188.53L376.91 190.15L377.33 191.82L377.75 193.47L378.17 195.04L378.58 196.44L379.00 197.62L379.42 198.69L379.84 199.82L380.25 200.96L380.67 202.05L381.09 203.06L381.51 203.92L381.92 204.59L382.34 205.03L382.76 205.19L383.18 205.19L383.59 205.19L384.01 205.18L384.43 205.17L384.84 205.16L385.26 205.14L385.68 205.12L386.10 205.10L386.51 205.08L386.93 205.06L387.35 205.03L387.77 205.01L388.18 204.98L388.60 204.95L389.02 204.92L389.44 204.89L389.85 204.86L390.27 204.83L390.69 204.80L391.11 204.76L391.52 204.73L391.94 204.69L392.36 204.65L392.78 204.60L393.19 204.54L393.61 204.48L394.03 204.42L394.44 204.35L394.86 204.29L395.28 204.22L395.70 204.17L396.11 204.11L396.53 204.06L396.95 204.02L397.37 203.98L397.78 203.95L398.20 203.91L398.62 203.87L399.04 203.84L399.45 203.81L399.87 203.79L400.29 203.77L400.71 203.77L401.12 203.78L401.54 203.81L401.96 203.86L402.38 203.93L402.79 204.01L403.21 204.10L403.63 204.20L404.05 204.32L404.46 204.44L404.88 204.56L405.30 204.69L405.71 204.83L406.13 204.96L406.55 205.11L406.97 205.29L407.38 205.49L407.80 205.72L408.22 205.97L408.64 206.23L409.05 206.51L409.47 206.79L409.89 207.07L410.31 207.34L410.72 207.62L411.14 207.88L411.56 208.12L411.98 208.35L412.39 208.55L412.81 208.74L413.23 208.95L413.65 209.16L414.06 209.37L414.48 209.58L414.90 209.78L415.31 209.96L415.73 210.13L416.15 210.27L416.57 210.39L416.98 210.48L417.40 210.53L417.82 210.54L418.24 210.52L418.65 210.51L419.07 210.48L419.49 210.46L419.91 210.43L420.32 210.39L420.74 210.36L421.16 210.32L421.58 210.28L421.99 210.23L422.41 210.19L422.83 210.15L423.25 210.10L423.66 210.06L424.08 210.01L424.50 209.97L424.92 209.93L425.33 209.89L425.75 209.85L426.17 209.81L426.58 209.78L427.00 209.75L427.42 209.72L427.84 209.68L428.25 209.65L428.67 209.61L429.09 209.56L429.51 209.51L429.92 209.46L430.34 209.40L430.76 209.35L431.18 209.28L431.59 209.22L432.01 209.15L432.43 209.08L432.85 209.01L433.26 208.93L433.68 208.85L434.10 208.77L434.52 208.69L434.93 208.60L435.35 208.52L435.77 208.43L436.18 208.34L436.60 208.24L437.02 208.15L437.44 208.05L437.85 207.96L438.27 207.86L438.69 207.76L439.11 207.66L439.52 207.56L439.94 207.45L440.36 207.33L440.78 207.21L441.19 207.08L441.61 206.95L442.03 206.80L442.45 206.65L442.86 206.49L443.28 206.33L443.70 206.16L444.12 205.99L444.53 205.81L444.95 205.62L445.37 205.43L445.79 205.24L446.20 205.04L446.62 204.84L447.04 204.64L447.45 204.44L447.87 204.23L448.29 204.02L448.71 203.81L449.12 203.59L449.54 203.37L449.96 203.15L450.38 202.91L450.79 202.67L451.21 202.43L451.63 202.18L452.05 201.92L452.46 201.66L452.88 201.39L453.30 201.12L453.72 200.84L454.13 200.55L454.55 200.27L454.97 199.97L455.39 199.68L455.80 199.38L456.22 199.07L456.64 198.76L457.05 198.45L457.47 198.13L457.89 197.82L458.31 197.49L458.72 197.17L459.14 196.83L459.56 196.49L459.98 196.14L460.39 195.79L460.81 195.42L461.23 195.06L461.65 194.68L462.06 194.30L462.48 193.91L462.90 193.52L463.32 193.13L463.73 192.73L464.15 192.32L464.57 191.91L464.99 191.50L465.40 191.09L465.82 190.67L466.24 190.25L466.66 189.82L467.07 189.40L467.49 188.97L467.91 188.54L468.32 188.11L468.74 187.68L469.16 187.25L469.58 186.81L469.99 186.37L470.41 185.93L470.83 185.47L471.25 185.01L471.66 184.55L472.08 184.07L472.50 183.58L472.92 183.08L473.33 182.57L473.75 182.04L474.17 181.50L474.59 180.94L475.00 180.37L475.42 179.77L475.84 179.15L476.26 178.49L476.67 177.81L477.09 177.11L477.51 176.39L477.92 175.64L478.34 174.88L478.76 174.10L479.18 173.31L479.59 172.50L480.01 171.63L480.43 170.65L480.85 169.61L481.26 168.55L481.68 167.50L482.10 166.49L482.52 165.57L482.93 164.77L483.35 164.14L483.77 163.58L484.19 163.02L484.60 162.52L485.02 162.11L485.44 161.84L485.86 161.76L486.27 161.88L486.69 162.17L487.11 162.61L487.53 163.15L487.94 163.75L488.36 164.39L488.78 165.16L489.19 166.14L489.61 167.31L490.03 168.65L490.45 170.13L490.86 171.73L491.28 173.42L491.70 175.55L492.12 178.15L492.53 181.00L492.95 183.92L493.37 186.69L493.79 189.12L494.20 191.08L494.62 192.93L495.04 194.73L495.46 196.47L495.87 198.12L496.29 199.68L496.71 201.12L497.13 202.43L497.54 203.60L497.96 204.60L498.38 205.42L498.79 206.14L499.21 206.81L499.63 207.44L500.05 208.04L500.46 208.58L500.88 209.08L501.30 209.53L501.72 209.94L502.13 210.28L502.55 210.58L502.97 210.81L503.39 211.01L503.80 211.21L504.22 211.40L504.64 211.59L505.06 211.76L505.47 211.93L505.89 212.09L506.31 212.24L506.73 212.38L507.14 212.51L507.56 212.63L507.98 212.74L508.40 212.84L508.81 212.92L509.23 213.00L509.65 213.06L510.06 213.10L510.48 213.14L510.90 213.15L511.32 213.16L511.73 213.17L512.15 213.18L512.57 213.18L512.99 213.19L513.40 213.19L513.82 213.20L514.24 213.20L514.66 213.20L515.07 213.20L515.49 213.20L515.91 213.20L516.33 213.20L516.74 213.20L517.16 213.20L517.58 213.20L518.00 213.20L518.41 213.20L518.83 213.20L519.25 213.20L519.66 213.20L520.08 213.20L520.50 213.20L520.92 213.20L521.33 213.20L521.75 213.20L522.17 213.20L522.59 213.20L523.00 213.20L523.42 213.20L523.84 213.20L524.26 213.20L524.67 213.20L525.09 213.20L525.51 213.20L525.93 213.20L526.34 213.20L526.76 213.20L527.18 213.20L527.60 213.20L528.01 213.20L528.43 213.20L528.85 213.20L529.27 213.20L529.68 213.20L530.10 213.20L530.52 213.20L530.93 213.20L531.35 213.20L531.77 213.20L532.19 213.20L532.60 213.20L533.02 213.20L533.44 213.20L533.86 213.20L534.27 213.20L534.69 213.20L535.11 213.20L535.53 213.20L535.94 213.20L536.36 213.20L536.78 213.20L537.20 213.20L537.61 213.20L538.03 213.20L538.45 213.20L538.87 213.20L539.28 213.20L539.70 213.20"/>
<path stroke="#999933" stroke-width="1.3" d="M331.00 -81.15L331.42 -71.59L331.83 -61.98L332.25 -52.33L332.67 -42.64L333.09 -32.92L333.50 -23.16L333.92 -13.36L334.34 -3.54L334.76 6.32L335.17 16.20L335.59 26.11L336.01 36.04L336.43 46.00L336.84 56.20L337.26 66.55L337.68 76.69L338.10 86.30L338.51 95.74L338.93 105.08L339.35 113.84L339.77 121.57L340.18 127.96L340.60 133.77L341.02 139.06L341.44 143.76L341.85 147.77L342.27 151.04L342.69 153.89L343.10 156.24L343.52 157.86L343.94 158.87L344.36 159.65L344.77 160.29L345.19 160.90L345.61 161.59L346.03 162.24L346.44 162.88L346.86 163.56L347.28 164.34L347.70 165.27L348.11 166.35L348.53 167.56L348.95 168.86L349.37 170.23L349.78 171.63L350.20 173.05L350.62 174.44L351.04 175.80L351.45 177.07L351.87 178.25L352.29 179.30L352.70 180.28L353.12 181.29L353.54 182.34L353.96 183.38L354.37 184.41L354.79 185.41L355.21 186.36L355.63 187.24L356.04 188.03L356.46 188.71L356.88 189.27L357.30 189.69L357.71 189.94L358.13 190.01L358.55 189.95L358.97 189.81L359.38 189.60L359.80 189.33L360.22 189.03L360.64 188.69L361.05 188.35L361.47 188.00L361.89 187.67L362.31 187.35L362.72 186.99L363.14 186.58L363.56 186.15L363.97 185.70L364.39 185.26L364.81 184.82L365.23 184.40L365.64 184.02L366.06 183.68L366.48 183.41L366.90 183.19L367.31 183.00L367.73 182.80L368.15 182.61L368.57 182.44L368.98 182.27L369.40 182.13L369.82 182.01L370.24 181.91L370.65 181.84L371.07 181.80L371.49 181.80L371.91 181.88L372.32 182.06L372.74 182.31L373.16 182.62L373.57 182.99L373.99 183.41L374.41 183.86L374.83 184.34L375.24 185.02L375.66 186.03L376.08 187.32L376.50 188.80L376.91 190.41L377.33 192.08L377.75 193.73L378.17 195.30L378.58 196.71L379.00 197.90L379.42 199.00L379.84 200.16L380.25 201.33L380.67 202.46L381.09 203.49L381.51 204.39L381.92 205.08L382.34 205.54L382.76 205.71L383.18 205.70L383.59 205.70L384.01 205.70L384.43 205.69L384.84 205.68L385.26 205.67L385.68 205.66L386.10 205.65L386.51 205.63L386.93 205.62L387.35 205.60L387.77 205.58L388.18 205.56L388.60 205.54L389.02 205.52L389.44 205.50L389.85 205.48L390.27 205.46L390.69 205.43L391.11 205.41L391.52 205.38L391.94 205.36L392.36 205.32L392.78 205.28L393.19 205.23L393.61 205.17L394.03 205.12L394.44 205.06L394.86 205.00L395.28 204.94L395.70 204.89L396.11 204.84L396.53 204.80L396.95 204.76L397.37 204.73L397.78 204.69L398.20 204.65L398.62 204.62L399.04 204.59L399.45 204.56L399.87 204.54L400.29 204.53L400.71 204.53L401.12 204.53L401.54 204.56L401.96 204.61L402.38 204.66L402.79 204.73L403.21 204.82L403.63 204.91L404.05 205.01L404.46 205.12L404.88 205.23L405.30 205.35L405.71 205.46L406.13 205.58L406.55 205.71L406.97 205.87L407.38 206.06L407.80 206.27L408.22 206.49L408.64 206.73L409.05 206.98L409.47 207.23L409.89 207.49L410.31 207.74L410.72 207.99L411.14 208.22L411.56 208.45L411.98 208.65L412.39 208.84L412.81 209.01L413.23 209.20L413.65 209.39L414.06 209.59L414.48 209.78L414.90 209.96L415.31 210.13L415.73 210.28L416.15 210.41L416.57 210.52L416.98 210.60L417.40 210.65L417.82 210.66L418.24 210.65L418.65 210.63L419.07 210.61L419.49 210.59L419.91 210.56L420.32 210.53L420.74 210.49L421.16 210.45L421.58 210.41L421.99 210.37L422.41 210.33L422.83 210.29L423.25 210.25L423.66 210.20L424.08 210.16L424.50 210.12L424.92 210.08L425.33 210.04L425.75 210.01L426.17 209.98L426.58 209.95L427.00 209.92L427.42 209.90L427.84 209.87L428.25 209.84L428.67 209.80L429.09 209.76L429.51 209.72L429.92 209.68L430.34 209.63L430.76 209.58L431.18 209.53L431.59 209.47L432.01 209.41L432.43 209.35L432.85 209.29L433.26 209.23L433.68 209.16L434.10 209.09L434.52 209.02L434.93 208.95L435.35 208.87L435.77 208.80L436.18 208.72L436.60 208.64L437.02 208.56L437.44 208.48L437.85 208.39L438.27 208.31L438.69 208.23L439.11 208.14L439.52 208.05L439.94 207.96L440.36 207.87L440.78 207.76L441.19 207.65L441.61 207.54L442.03 207.41L442.45 207.29L442.86 207.16L443.28 207.02L443.70 206.88L444.12 206.73L444.53 206.58L444.95 206.42L445.37 206.26L445.79 206.10L446.20 205.94L446.62 205.77L447.04 205.60L447.45 205.43L447.87 205.25L448.29 205.08L448.71 204.90L449.12 204.72L449.54 204.54L449.96 204.35L450.38 204.15L450.79 203.95L451.21 203.75L451.63 203.53L452.05 203.32L452.46 203.10L452.88 202.87L453.30 202.64L453.72 202.41L454.13 202.17L454.55 201.93L454.97 201.69L455.39 201.44L455.80 201.19L456.22 200.93L456.64 200.67L457.05 200.41L457.47 200.15L457.89 199.88L458.31 199.61L458.72 199.34L459.14 199.06L459.56 198.77L459.98 198.48L460.39 198.18L460.81 197.88L461.23 197.57L461.65 197.25L462.06 196.94L462.48 196.61L462.90 196.29L463.32 195.95L463.73 195.62L464.15 195.28L464.57 194.94L464.99 194.59L465.40 194.24L465.82 193.89L466.24 193.54L466.66 193.19L467.07 192.83L467.49 192.47L467.91 192.11L468.32 191.75L468.74 191.39L469.16 191.03L469.58 190.67L469.99 190.30L470.41 189.92L470.83 189.55L471.25 189.16L471.66 188.77L472.08 188.37L472.50 187.96L472.92 187.54L473.33 187.11L473.75 186.67L474.17 186.21L474.59 185.75L475.00 185.27L475.42 184.77L475.84 184.24L476.26 183.69L476.67 183.12L477.09 182.54L477.51 181.93L477.92 181.30L478.34 180.66L478.76 180.01L479.18 179.34L479.59 178.67L480.01 177.93L480.43 177.12L480.85 176.24L481.26 175.35L481.68 174.46L482.10 173.62L482.52 172.85L482.93 172.18L483.35 171.65L483.77 171.18L484.19 170.72L484.60 170.30L485.02 169.95L485.44 169.73L485.86 169.66L486.27 169.77L486.69 170.02L487.11 170.39L487.53 170.85L487.94 171.36L488.36 171.90L488.78 172.55L489.19 173.38L489.61 174.37L490.03 175.51L490.45 176.76L490.86 178.10L491.28 179.53L491.70 181.33L492.12 183.52L492.53 185.93L492.95 188.38L493.37 190.72L493.79 192.77L494.20 194.43L494.62 195.99L495.04 197.51L495.46 198.98L495.87 200.38L496.29 201.69L496.71 202.91L497.13 204.01L497.54 205.00L497.96 205.85L498.38 206.55L498.79 207.15L499.21 207.72L499.63 208.26L500.05 208.76L500.46 209.23L500.88 209.65L501.30 210.04L501.72 210.38L502.13 210.67L502.55 210.93L502.97 211.13L503.39 211.30L503.80 211.47L504.22 211.64L504.64 211.79L505.06 211.95L505.47 212.09L505.89 212.23L506.31 212.36L506.73 212.48L507.14 212.59L507.56 212.70L507.98 212.79L508.40 212.88L508.81 212.95L509.23 213.01L509.65 213.07L510.06 213.11L510.48 213.14L510.90 213.15L511.32 213.16L511.73 213.17L512.15 213.18L512.57 213.18L512.99 213.19L513.40 213.19L513.82 213.20L514.24 213.20L514.66 213.20L515.07 213.20L515.49 213.20L515.91 213.20L516.33 213.20L516.74 213.20L517.16 213.20L517.58 213.20L518.00 213.20L518.41 213.20L518.83 213.20L519.25 213.20L519.66 213.20L520.08 213.20L520.50 213.20L520.92 213.20L521.33 213.20L521.75 213.20L522.17 213.20L522.59 213.20L523.00 213.20L523.42 213.20L523.84 213.20L524.26 213.20L524.67 213.20L525.09 213.20L525.51 213.20L525.93 213.20L526.34 213.20L526.76 213.20L527.18 213.20L527.60 213.20L528.01 213.20L528.43 213.20L528.85 213.20L529.27 213.20L529.68 213.20L530.10 213.20L530.52 213.20L530.93 213.20L531.35 213.20L531.77 213.20L532.19 213.20L532.60 213.20L533.02 213.20L533.44 213.20L533.86 213.20L534.27 213.20L534.69 213.20L535.11 213.20L535.53 213.20L535.94 213.20L536.36 213.20L536.78 213.20L537.20 213.20L537.61 213.20L538.03 213.20L538.45 213.20L538.87 213.20L539.28 213.20L539.70 213.20"/>
<path stroke="#b00000" stroke-width="1.3" d="M331.00 -81.15L331.42 -72.39L331.83 -63.52L332.25 -54.55L332.67 -45.48L333.09 -36.32L333.50 -27.08L333.92 -17.75L334.34 -8.34L334.76 1.13L335.17 10.67L335.59 20.27L336.01 29.93L336.43 39.64L336.84 49.45L337.26 59.65L337.68 69.97L338.10 80.05L338.51 89.68L338.93 99.45L339.35 108.99L339.77 117.67L340.18 124.89L340.60 130.98L341.02 136.57L341.44 141.55L341.85 145.82L342.27 149.27L342.69 152.03L343.10 154.40L343.52 156.17L343.94 157.22L344.36 157.95L344.77 158.51L345.19 159.01L345.61 159.55L346.03 160.15L346.44 160.72L346.86 161.31L347.28 161.98L347.70 162.79L348.11 163.80L348.53 164.97L348.95 166.29L349.37 167.70L349.78 169.19L350.20 170.70L350.62 172.22L351.04 173.70L351.45 175.11L351.87 176.42L352.29 177.59L352.70 178.65L353.12 179.74L353.54 180.87L353.96 182.00L354.37 183.13L354.79 184.23L355.21 185.28L355.63 186.27L356.04 187.16L356.46 187.94L356.88 188.59L357.30 189.10L357.71 189.43L358.13 189.57L358.55 189.55L358.97 189.44L359.38 189.27L359.80 189.05L360.22 188.79L360.64 188.50L361.05 188.19L361.47 187.89L361.89 187.59L362.31 187.31L362.72 187.00L363.14 186.64L363.56 186.26L363.97 185.87L364.39 185.47L364.81 185.07L365.23 184.70L365.64 184.35L366.06 184.04L366.48 183.78L366.90 183.58L367.31 183.39L367.73 183.20L368.15 183.02L368.57 182.85L368.98 182.69L369.40 182.55L369.82 182.43L370.24 182.33L370.65 182.26L371.07 182.22L371.49 182.21L371.91 182.29L372.32 182.45L372.74 182.68L373.16 182.98L373.57 183.34L373.99 183.74L374.41 184.18L374.83 184.64L375.24 185.30L375.66 186.31L376.08 187.58L376.50 189.05L376.91 190.66L377.33 192.32L377.75 193.97L378.17 195.55L378.58 196.97L379.00 198.17L379.42 199.29L379.84 200.48L380.25 201.68L380.67 202.84L381.09 203.90L381.51 204.82L381.92 205.54L382.34 206.02L382.76 206.19L383.18 206.18L383.59 206.18L384.01 206.18L384.43 206.18L384.84 206.17L385.26 206.17L385.68 206.16L386.10 206.15L386.51 206.15L386.93 206.14L387.35 206.13L387.77 206.12L388.18 206.11L388.60 206.09L389.02 206.08L389.44 206.07L389.85 206.06L390.27 206.04L390.69 206.03L391.11 206.01L391.52 206.00L391.94 205.98L392.36 205.95L392.78 205.91L393.19 205.87L393.61 205.82L394.03 205.77L394.44 205.72L394.86 205.67L395.28 205.62L395.70 205.57L396.11 205.52L396.53 205.48L396.95 205.45L397.37 205.42L397.78 205.39L398.20 205.35L398.62 205.32L399.04 205.29L399.45 205.27L399.87 205.25L400.29 205.24L400.71 205.23L401.12 205.24L401.54 205.27L401.96 205.30L402.38 205.35L402.79 205.42L403.21 205.49L403.63 205.57L404.05 205.66L404.46 205.75L404.88 205.85L405.30 205.95L405.71 206.06L406.13 206.16L406.55 206.28L406.97 206.42L407.38 206.59L407.80 206.78L408.22 206.98L408.64 207.20L409.05 207.42L409.47 207.65L409.89 207.88L410.31 208.11L410.72 208.34L411.14 208.55L411.56 208.75L411.98 208.94L412.39 209.11L412.81 209.27L413.23 209.44L413.65 209.61L414.06 209.79L414.48 209.96L414.90 210.13L415.31 210.28L415.73 210.43L416.15 210.55L416.57 210.65L416.98 210.72L417.40 210.76L417.82 210.77L418.24 210.76L418.65 210.75L419.07 210.73L419.49 210.70L419.91 210.68L420.32 210.65L420.74 210.61L421.16 210.58L421.58 210.54L421.99 210.50L422.41 210.46L422.83 210.42L423.25 210.38L423.66 210.33L424.08 210.29L424.50 210.26L424.92 210.22L425.33 210.18L425.75 210.15L426.17 210.12L426.58 210.10L427.00 210.07L427.42 210.05L427.84 210.03L428.25 210.00L428.67 209.97L429.09 209.94L429.51 209.90L429.92 209.86L430.34 209.82L430.76 209.78L431.18 209.73L431.59 209.68L432.01 209.63L432.43 209.58L432.85 209.52L433.26 209.47L433.68 209.41L434.10 209.35L434.52 209.28L434.93 209.22L435.35 209.15L435.77 209.09L436.18 209.02L436.60 208.95L437.02 208.88L437.44 208.81L437.85 208.74L438.27 208.66L438.69 208.59L439.11 208.51L439.52 208.44L439.94 208.36L440.36 208.28L440.78 208.19L441.19 208.09L441.61 207.99L442.03 207.89L442.45 207.78L442.86 207.66L443.28 207.54L443.70 207.42L444.12 207.30L444.53 207.17L444.95 207.03L445.37 206.90L445.79 206.76L446.20 206.62L446.62 206.48L447.04 206.33L447.45 206.18L447.87 206.03L448.29 205.88L448.71 205.73L449.12 205.58L449.54 205.42L449.96 205.26L450.38 205.09L450.79 204.92L451.21 204.75L451.63 204.57L452.05 204.38L452.46 204.20L452.88 204.00L453.30 203.81L453.72 203.61L454.13 203.41L454.55 203.20L454.97 202.99L455.39 202.78L455.80 202.57L456.22 202.35L456.64 202.13L457.05 201.91L457.47 201.68L457.89 201.46L458.31 201.23L458.72 200.99L459.14 200.75L459.56 200.51L459.98 200.26L460.39 200.01L460.81 199.75L461.23 199.49L461.65 199.22L462.06 198.95L462.48 198.67L462.90 198.40L463.32 198.11L463.73 197.83L464.15 197.54L464.57 197.25L464.99 196.95L465.40 196.66L465.82 196.36L466.24 196.06L466.66 195.76L467.07 195.45L467.49 195.15L467.91 194.84L468.32 194.54L468.74 194.23L469.16 193.93L469.58 193.61L469.99 193.30L470.41 192.98L470.83 192.66L471.25 192.33L471.66 192.00L472.08 191.66L472.50 191.31L472.92 190.95L473.33 190.59L473.75 190.21L474.17 189.82L474.59 189.43L475.00 189.02L475.42 188.59L475.84 188.14L476.26 187.68L476.67 187.19L477.09 186.69L477.51 186.17L477.92 185.64L478.34 185.09L478.76 184.54L479.18 183.97L479.59 183.39L480.01 182.76L480.43 182.07L480.85 181.32L481.26 180.56L481.68 179.80L482.10 179.08L482.52 178.42L482.93 177.85L483.35 177.40L483.77 177.00L484.19 176.61L484.60 176.25L485.02 175.96L485.44 175.77L485.86 175.72L486.27 175.81L486.69 176.03L487.11 176.35L487.53 176.74L487.94 177.19L488.36 177.66L488.78 178.21L489.19 178.93L489.61 179.78L490.03 180.75L490.45 181.83L490.86 182.98L491.28 184.21L491.70 185.75L492.12 187.63L492.53 189.70L492.95 191.81L493.37 193.81L493.79 195.57L494.20 196.99L494.62 198.33L495.04 199.64L495.46 200.90L495.87 202.10L496.29 203.23L496.71 204.27L497.13 205.23L497.54 206.07L497.96 206.80L498.38 207.41L498.79 207.93L499.21 208.42L499.63 208.88L500.05 209.32L500.46 209.72L500.88 210.09L501.30 210.42L501.72 210.72L502.13 210.98L502.55 211.19L502.97 211.37L503.39 211.52L503.80 211.67L504.22 211.81L504.64 211.95L505.06 212.09L505.47 212.21L505.89 212.33L506.31 212.45L506.73 212.55L507.14 212.65L507.56 212.75L507.98 212.83L508.40 212.90L508.81 212.97L509.23 213.03L509.65 213.07L510.06 213.11L510.48 213.14L510.90 213.15L511.32 213.16L511.73 213.17L512.15 213.18L512.57 213.18L512.99 213.19L513.40 213.19L513.82 213.20L514.24 213.20L514.66 213.20L515.07 213.20L515.49 213.20L515.91 213.20L516.33 213.20L516.74 213.20L517.16 213.20L517.58 213.20L518.00 213.20L518.41 213.20L518.83 213.20L519.25 213.20L519.66 213.20L520.08 213.20L520.50 213.20L520.92 213.20L521.33 213.20L521.75 213.20L522.17 213.20L522.59 213.20L523.00 213.20L523.42 213.20L523.84 213.20L524.26 213.20L524.67 213.20L525.09 213.20L525.51 213.20L525.93 213.20L526.34 213.20L526.76 213.20L527.18 213.20L527.60 213.20L528.01 213.20L528.43 213.20L528.85 213.20L529.27 213.20L529.68 213.20L530.10 213.20L530.52 213.20L530.93 213.20L531.35 213.20L531.77 213.20L532.19 213.20L532.60 213.20L533.02 213.20L533.44 213.20L533.86 213.20L534.27 213.20L534.69 213.20L535.11 213.20L535.53 213.20L535.94 213.20L536.36 213.20L536.78 213.20L537.20 213.20L537.61 213.20L538.03 213.20L538.45 213.20L538.87 213.20L539.28 213.20L539.70 213.20"/>
<path stroke="#ff1493" stroke-width="1.3" d="M331.00 -81.15L331.42 -73.13L331.83 -64.94L332.25 -56.60L332.67 -48.11L333.09 -39.48L333.50 -30.73L333.92 -21.85L334.34 -12.85L334.76 -3.75L335.17 5.45L335.59 14.74L336.01 24.12L336.43 33.57L336.84 43.09L337.26 52.86L337.68 63.09L338.10 73.40L338.51 83.43L338.93 93.30L339.35 103.42L339.77 113.06L340.18 121.43L340.60 128.02L341.02 133.91L341.44 139.22L341.85 143.80L342.27 147.52L342.69 150.31L343.10 152.64L343.52 154.49L343.94 155.68L344.36 156.36L344.77 156.85L345.19 157.26L345.61 157.65L346.03 158.13L346.44 158.63L346.86 159.14L347.28 159.71L347.70 160.39L348.11 161.26L348.53 162.37L348.95 163.67L349.37 165.12L349.78 166.67L350.20 168.29L350.62 169.92L351.04 171.54L351.45 173.10L351.87 174.55L352.29 175.86L352.70 177.01L353.12 178.17L353.54 179.38L353.96 180.61L354.37 181.83L354.79 183.03L355.21 184.19L355.63 185.28L356.04 186.27L356.46 187.16L356.88 187.91L357.30 188.50L357.71 188.92L358.13 189.13L358.55 189.15L358.97 189.08L359.38 188.94L359.80 188.76L360.22 188.54L360.64 188.30L361.05 188.03L361.47 187.77L361.89 187.51L362.31 187.26L362.72 186.99L363.14 186.68L363.56 186.35L363.97 186.01L364.39 185.66L364.81 185.31L365.23 184.97L365.64 184.66L366.06 184.37L366.48 184.13L366.90 183.94L367.31 183.76L367.73 183.58L368.15 183.41L368.57 183.25L368.98 183.09L369.40 182.95L369.82 182.83L370.24 182.73L370.65 182.66L371.07 182.62L371.49 182.61L371.91 182.67L372.32 182.82L372.74 183.04L373.16 183.33L373.57 183.67L373.99 184.05L374.41 184.47L374.83 184.92L375.24 185.57L375.66 186.56L376.08 187.83L376.50 189.29L376.91 190.89L377.33 192.55L377.75 194.20L378.17 195.78L378.58 197.21L379.00 198.43L379.42 199.57L379.84 200.78L380.25 202.00L380.67 203.19L381.09 204.29L381.51 205.23L381.92 205.98L382.34 206.46L382.76 206.64L383.18 206.64L383.59 206.64L384.01 206.64L384.43 206.64L384.84 206.63L385.26 206.63L385.68 206.63L386.10 206.63L386.51 206.63L386.93 206.62L387.35 206.62L387.77 206.62L388.18 206.61L388.60 206.61L389.02 206.61L389.44 206.60L389.85 206.60L390.27 206.59L390.69 206.59L391.11 206.58L391.52 206.57L391.94 206.56L392.36 206.54L392.78 206.51L393.19 206.48L393.61 206.44L394.03 206.40L394.44 206.35L394.86 206.30L395.28 206.25L395.70 206.21L396.11 206.17L396.53 206.13L396.95 206.10L397.37 206.07L397.78 206.04L398.20 206.01L398.62 205.98L399.04 205.96L399.45 205.93L399.87 205.92L400.29 205.91L400.71 205.90L401.12 205.91L401.54 205.93L401.96 205.96L402.38 206.01L402.79 206.06L403.21 206.12L403.63 206.19L404.05 206.27L404.46 206.35L404.88 206.44L405.30 206.53L405.71 206.62L406.13 206.71L406.55 206.82L406.97 206.94L407.38 207.09L407.80 207.26L408.22 207.44L408.64 207.64L409.05 207.84L409.47 208.05L409.89 208.25L410.31 208.46L410.72 208.66L411.14 208.86L411.56 209.04L411.98 209.21L412.39 209.36L412.81 209.51L413.23 209.66L413.65 209.82L414.06 209.98L414.48 210.14L414.90 210.29L415.31 210.43L415.73 210.56L416.15 210.67L416.57 210.76L416.98 210.83L417.40 210.87L417.82 210.88L418.24 210.87L418.65 210.86L419.07 210.84L419.49 210.81L419.91 210.79L420.32 210.75L420.74 210.72L421.16 210.69L421.58 210.65L421.99 210.61L422.41 210.57L422.83 210.53L423.25 210.49L423.66 210.45L424.08 210.41L424.50 210.37L424.92 210.34L425.33 210.30L425.75 210.27L426.17 210.24L426.58 210.22L427.00 210.20L427.42 210.18L427.84 210.16L428.25 210.13L428.67 210.11L429.09 210.07L429.51 210.04L429.92 210.01L430.34 209.97L430.76 209.93L431.18 209.89L431.59 209.84L432.01 209.80L432.43 209.75L432.85 209.70L433.26 209.64L433.68 209.59L434.10 209.53L434.52 209.48L434.93 209.42L435.35 209.36L435.77 209.30L436.18 209.24L436.60 209.17L437.02 209.11L437.44 209.04L437.85 208.98L438.27 208.91L438.69 208.84L439.11 208.77L439.52 208.71L439.94 208.63L440.36 208.56L440.78 208.48L441.19 208.39L441.61 208.30L442.03 208.20L442.45 208.11L442.86 208.00L443.28 207.90L443.70 207.79L444.12 207.67L444.53 207.56L444.95 207.44L445.37 207.32L445.79 207.20L446.20 207.07L446.62 206.94L447.04 206.81L447.45 206.68L447.87 206.55L448.29 206.41L448.71 206.28L449.12 206.14L449.54 206.00L449.96 205.86L450.38 205.71L450.79 205.56L451.21 205.41L451.63 205.25L452.05 205.08L452.46 204.92L452.88 204.75L453.30 204.57L453.72 204.40L454.13 204.22L454.55 204.04L454.97 203.85L455.39 203.67L455.80 203.48L456.22 203.28L456.64 203.09L457.05 202.89L457.47 202.69L457.89 202.49L458.31 202.29L458.72 202.09L459.14 201.88L459.56 201.66L459.98 201.44L460.39 201.22L460.81 200.99L461.23 200.76L461.65 200.52L462.06 200.28L462.48 200.04L462.90 199.79L463.32 199.54L463.73 199.29L464.15 199.04L464.57 198.78L464.99 198.52L465.40 198.26L465.82 198.00L466.24 197.73L466.66 197.47L467.07 197.20L467.49 196.93L467.91 196.66L468.32 196.39L468.74 196.12L469.16 195.85L469.58 195.57L469.99 195.30L470.41 195.02L470.83 194.73L471.25 194.44L471.66 194.15L472.08 193.85L472.50 193.54L472.92 193.23L473.33 192.90L473.75 192.57L474.17 192.23L474.59 191.88L475.00 191.52L475.42 191.14L475.84 190.74L476.26 190.33L476.67 189.90L477.09 189.46L477.51 189.00L477.92 188.53L478.34 188.05L478.76 187.55L479.18 187.05L479.59 186.54L480.01 185.98L480.43 185.37L480.85 184.71L481.26 184.03L481.68 183.36L482.10 182.72L482.52 182.14L482.93 181.64L483.35 181.23L483.77 180.88L484.19 180.54L484.60 180.22L485.02 179.97L485.44 179.80L485.86 179.75L486.27 179.84L486.69 180.04L487.11 180.32L487.53 180.68L487.94 181.07L488.36 181.49L488.78 181.99L489.19 182.62L489.61 183.39L490.03 184.25L490.45 185.21L490.86 186.24L491.28 187.33L491.70 188.71L492.12 190.38L492.53 192.21L492.95 194.09L493.37 195.87L493.79 197.43L494.20 198.70L494.62 199.89L495.04 201.06L495.46 202.18L495.87 203.25L496.29 204.25L496.71 205.19L497.13 206.03L497.54 206.79L497.96 207.44L498.38 207.98L498.79 208.45L499.21 208.89L499.63 209.30L500.05 209.69L500.46 210.05L500.88 210.38L501.30 210.68L501.72 210.94L502.13 211.18L502.55 211.37L502.97 211.53L503.39 211.67L503.80 211.80L504.22 211.93L504.64 212.06L505.06 212.18L505.47 212.30L505.89 212.40L506.31 212.51L506.73 212.61L507.14 212.70L507.56 212.78L507.98 212.85L508.40 212.92L508.81 212.98L509.23 213.04L509.65 213.08L510.06 213.11L510.48 213.14L510.90 213.15L511.32 213.16L511.73 213.17L512.15 213.18L512.57 213.18L512.99 213.19L513.40 213.19L513.82 213.20L514.24 213.20L514.66 213.20L515.07 213.20L515.49 213.20L515.91 213.20L516.33 213.20L516.74 213.20L517.16 213.20L517.58 213.20L518.00 213.20L518.41 213.20L518.83 213.20L519.25 213.20L519.66 213.20L520.08 213.20L520.50 213.20L520.92 213.20L521.33 213.20L521.75 213.20L522.17 213.20L522.59 213.20L523.00 213.20L523.42 213.20L523.84 213.20L524.26 213.20L524.67 213.20L525.09 213.20L525.51 213.20L525.93 213.20L526.34 213.20L526.76 213.20L527.18 213.20L527.60 213.20L528.01 213.20L528.43 213.20L528.85 213.20L529.27 213.20L529.68 213.20L530.10 213.20L530.52 213.20L530.93 213.20L531.35 213.20L531.77 213.20L532.19 213.20L532.60 213.20L533.02 213.20L533.44 213.20L533.86 213.20L534.27 213.20L534.69 213.20L535.11 213.20L535.53 213.20L535.94 213.20L536.36 213.20L536.78 213.20L537.20 213.20L537.61 213.20L538.03 213.20L538.45 213.20L538.87 213.20L539.28 213.20L539.70 213.20"/>
<path stroke="#20b2aa" stroke-width="1.3" d="M331.00 -81.15L331.42 -73.81L331.83 -66.25L332.25 -58.50L332.67 -50.55L333.09 -42.43L333.50 -34.14L333.92 -25.69L334.34 -17.09L334.76 -8.35L335.17 0.51L335.59 9.50L336.01 18.59L336.43 27.78L336.84 37.05L337.26 46.42L337.68 56.26L338.10 66.53L338.51 76.84L338.93 86.85L339.35 97.21L339.77 107.66L340.18 117.22L340.60 124.89L341.02 131.08L341.44 136.73L341.85 141.66L342.27 145.72L342.69 148.74L343.10 151.00L343.52 152.86L343.94 154.18L344.36 154.87L344.77 155.30L345.19 155.63L345.61 155.91L346.03 156.23L346.44 156.64L346.86 157.06L347.28 157.53L347.70 158.08L348.11 158.79L348.53 159.78L348.95 161.03L349.37 162.48L349.78 164.08L350.20 165.79L350.62 167.55L351.04 169.31L351.45 171.02L351.87 172.63L352.29 174.09L352.70 175.35L353.12 176.58L353.54 177.87L353.96 179.19L354.37 180.51L354.79 181.82L355.21 183.08L355.63 184.27L356.04 185.38L356.46 186.36L356.88 187.21L357.30 187.90L357.71 188.41L358.13 188.70L358.55 188.76L358.97 188.72L359.38 188.62L359.80 188.47L360.22 188.29L360.64 188.09L361.05 187.86L361.47 187.64L361.89 187.41L362.31 187.20L362.72 186.97L363.14 186.71L363.56 186.43L363.97 186.13L364.39 185.82L364.81 185.52L365.23 185.22L365.64 184.94L366.06 184.69L366.48 184.46L366.90 184.28L367.31 184.11L367.73 183.95L368.15 183.78L368.57 183.62L368.98 183.47L369.40 183.33L369.82 183.22L370.24 183.12L370.65 183.04L371.07 183.00L371.49 182.98L371.91 183.04L372.32 183.17L372.74 183.38L373.16 183.65L373.57 183.98L373.99 184.35L374.41 184.76L374.83 185.19L375.24 185.83L375.66 186.81L376.08 188.06L376.50 189.52L376.91 191.11L377.33 192.77L377.75 194.42L378.17 196.00L378.58 197.44L379.00 198.67L379.42 199.83L379.84 201.06L380.25 202.31L380.67 203.52L381.09 204.65L381.51 205.62L381.92 206.38L382.34 206.88L382.76 207.07L383.18 207.07L383.59 207.08L384.01 207.09L384.43 207.09L384.84 207.09L385.26 207.10L385.68 207.10L386.10 207.11L386.51 207.11L386.93 207.11L387.35 207.11L387.77 207.12L388.18 207.12L388.60 207.12L389.02 207.12L389.44 207.12L389.85 207.12L390.27 207.12L390.69 207.12L391.11 207.12L391.52 207.12L391.94 207.12L392.36 207.10L392.78 207.08L393.19 207.05L393.61 207.02L394.03 206.98L394.44 206.94L394.86 206.90L395.28 206.86L395.70 206.82L396.11 206.78L396.53 206.75L396.95 206.72L397.37 206.70L397.78 206.67L398.20 206.64L398.62 206.61L399.04 206.59L399.45 206.57L399.87 206.55L400.29 206.54L400.71 206.54L401.12 206.54L401.54 206.56L401.96 206.59L402.38 206.63L402.79 206.67L403.21 206.73L403.63 206.79L404.05 206.85L404.46 206.92L404.88 207.00L405.30 207.08L405.71 207.15L406.13 207.23L406.55 207.32L406.97 207.44L407.38 207.57L407.80 207.72L408.22 207.88L408.64 208.06L409.05 208.24L409.47 208.42L409.89 208.61L410.31 208.79L410.72 208.98L411.14 209.15L411.56 209.32L411.98 209.47L412.39 209.60L412.81 209.74L413.23 209.88L413.65 210.02L414.06 210.16L414.48 210.31L414.90 210.45L415.31 210.57L415.73 210.69L416.15 210.79L416.57 210.87L416.98 210.93L417.40 210.97L417.82 210.98L418.24 210.97L418.65 210.96L419.07 210.94L419.49 210.92L419.91 210.89L420.32 210.86L420.74 210.83L421.16 210.79L421.58 210.75L421.99 210.72L422.41 210.68L422.83 210.64L423.25 210.60L423.66 210.56L424.08 210.52L424.50 210.48L424.92 210.45L425.33 210.42L425.75 210.39L426.17 210.36L426.58 210.34L427.00 210.32L427.42 210.30L427.84 210.29L428.25 210.26L428.67 210.24L429.09 210.21L429.51 210.18L429.92 210.15L430.34 210.12L430.76 210.08L431.18 210.04L431.59 210.00L432.01 209.96L432.43 209.92L432.85 209.87L433.26 209.82L433.68 209.78L434.10 209.73L434.52 209.67L434.93 209.62L435.35 209.57L435.77 209.51L436.18 209.46L436.60 209.40L437.02 209.34L437.44 209.28L437.85 209.22L438.27 209.16L438.69 209.10L439.11 209.04L439.52 208.98L439.94 208.91L440.36 208.85L440.78 208.77L441.19 208.70L441.61 208.61L442.03 208.53L442.45 208.44L442.86 208.35L443.28 208.26L443.70 208.16L444.12 208.06L444.53 207.96L444.95 207.85L445.37 207.75L445.79 207.64L446.20 207.53L446.62 207.41L447.04 207.30L447.45 207.19L447.87 207.07L448.29 206.95L448.71 206.84L449.12 206.72L449.54 206.59L449.96 206.47L450.38 206.34L450.79 206.21L451.21 206.07L451.63 205.93L452.05 205.79L452.46 205.65L452.88 205.50L453.30 205.35L453.72 205.20L454.13 205.04L454.55 204.88L454.97 204.72L455.39 204.56L455.80 204.40L456.22 204.23L456.64 204.06L457.05 203.89L457.47 203.72L457.89 203.55L458.31 203.37L458.72 203.20L459.14 203.01L459.56 202.83L459.98 202.64L460.39 202.44L460.81 202.25L461.23 202.05L461.65 201.84L462.06 201.64L462.48 201.43L462.90 201.21L463.32 201.00L463.73 200.78L464.15 200.56L464.57 200.34L464.99 200.12L465.40 199.89L465.82 199.66L466.24 199.44L466.66 199.21L467.07 198.97L467.49 198.74L467.91 198.51L468.32 198.28L468.74 198.04L469.16 197.81L469.58 197.57L469.99 197.33L470.41 197.09L470.83 196.85L471.25 196.60L471.66 196.34L472.08 196.08L472.50 195.82L472.92 195.54L473.33 195.27L473.75 194.98L474.17 194.68L474.59 194.38L475.00 194.07L475.42 193.74L475.84 193.40L476.26 193.04L476.67 192.67L477.09 192.28L477.51 191.89L477.92 191.48L478.34 191.06L478.76 190.63L479.18 190.20L479.59 189.75L480.01 189.27L480.43 188.73L480.85 188.16L481.26 187.57L481.68 186.99L482.10 186.44L482.52 185.93L482.93 185.50L483.35 185.15L483.77 184.85L484.19 184.55L484.60 184.27L485.02 184.05L485.44 183.91L485.86 183.87L486.27 183.95L486.69 184.13L487.11 184.38L487.53 184.69L487.94 185.04L488.36 185.41L488.78 185.84L489.19 186.40L489.61 187.07L490.03 187.83L490.45 188.66L490.86 189.56L491.28 190.52L491.70 191.72L492.12 193.18L492.53 194.78L492.95 196.42L493.37 197.97L493.79 199.34L494.20 200.44L494.62 201.49L495.04 202.51L495.46 203.49L495.87 204.42L496.29 205.30L496.71 206.12L497.13 206.86L497.54 207.52L497.96 208.09L498.38 208.56L498.79 208.97L499.21 209.36L499.63 209.73L500.05 210.07L500.46 210.39L500.88 210.68L501.30 210.94L501.72 211.17L502.13 211.38L502.55 211.55L502.97 211.70L503.39 211.82L503.80 211.94L504.22 212.06L504.64 212.17L505.06 212.28L505.47 212.38L505.89 212.48L506.31 212.57L506.73 212.66L507.14 212.74L507.56 212.81L507.98 212.88L508.40 212.94L508.81 213.00L509.23 213.04L509.65 213.08L510.06 213.11L510.48 213.14L510.90 213.15L511.32 213.16L511.73 213.17L512.15 213.18L512.57 213.18L512.99 213.19L513.40 213.19L513.82 213.20L514.24 213.20L514.66 213.20L515.07 213.20L515.49 213.20L515.91 213.20L516.33 213.20L516.74 213.20L517.16 213.20L517.58 213.20L518.00 213.20L518.41 213.20L518.83 213.20L519.25 213.20L519.66 213.20L520.08 213.20L520.50 213.20L520.92 213.20L521.33 213.20L521.75 213.20L522.17 213.20L522.59 213.20L523.00 213.20L523.42 213.20L523.84 213.20L524.26 213.20L524.67 213.20L525.09 213.20L525.51 213.20L525.93 213.20L526.34 213.20L526.76 213.20L527.18 213.20L527.60 213.20L528.01 213.20L528.43 213.20L528.85 213.20L529.27 213.20L529.68 213.20L530.10 213.20L530.52 213.20L530.93 213.20L531.35 213.20L531.77 213.20L532.19 213.20L532.60 213.20L533.02 213.20L533.44 213.20L533.86 213.20L534.27 213.20L534.69 213.20L535.11 213.20L535.53 213.20L535.94 213.20L536.36 213.20L536.78 213.20L537.20 213.20L537.61 213.20L538.03 213.20L538.45 213.20L538.87 213.20L539.28 213.20L539.70 213.20"/>
<path stroke="#1f1fa0" stroke-width="1.45" d="M331.00 -81.15L331.42 -74.43L331.83 -67.47L332.25 -60.26L332.67 -52.83L333.09 -45.18L333.50 -37.33L333.92 -29.30L334.34 -21.08L334.76 -12.69L335.17 -4.16L335.59 4.52L336.01 13.33L336.43 22.25L336.84 31.28L337.26 40.41L337.68 49.71L338.10 59.66L338.51 69.98L338.93 80.31L339.35 90.54L339.77 101.45L340.18 112.11L340.60 121.27L341.02 128.08L341.44 134.06L341.85 139.37L342.27 143.82L342.69 147.21L343.10 149.48L343.52 151.31L343.94 152.70L344.36 153.49L344.77 153.86L345.19 154.10L345.61 154.29L346.03 154.49L346.44 154.75L346.86 155.08L347.28 155.45L347.70 155.89L348.11 156.43L348.53 157.23L348.95 158.37L349.37 159.79L349.78 161.43L350.20 163.21L350.62 165.09L351.04 167.00L351.45 168.87L351.87 170.65L352.29 172.27L352.70 173.67L353.12 174.98L353.54 176.35L353.96 177.76L354.37 179.18L354.79 180.58L355.21 181.95L355.63 183.25L356.04 184.46L356.46 185.56L356.88 186.51L357.30 187.29L357.71 187.89L358.13 188.26L358.55 188.39L358.97 188.36L359.38 188.29L359.80 188.18L360.22 188.03L360.64 187.87L361.05 187.69L361.47 187.50L361.89 187.31L362.31 187.13L362.72 186.94L363.14 186.72L363.56 186.49L363.97 186.23L364.39 185.97L364.81 185.71L365.23 185.45L365.64 185.21L366.06 184.98L366.48 184.78L366.90 184.61L367.31 184.45L367.73 184.29L368.15 184.13L368.57 183.98L368.98 183.83L369.40 183.70L369.82 183.58L370.24 183.48L370.65 183.41L371.07 183.36L371.49 183.34L371.91 183.39L372.32 183.51L372.74 183.71L373.16 183.97L373.57 184.28L373.99 184.64L374.41 185.03L374.83 185.45L375.24 186.07L375.66 187.04L376.08 188.28L376.50 189.73L376.91 191.32L377.33 192.98L377.75 194.63L378.17 196.22L378.58 197.66L379.00 198.90L379.42 200.07L379.84 201.33L380.25 202.60L380.67 203.84L381.09 204.98L381.51 205.97L381.92 206.76L382.34 207.28L382.76 207.48L383.18 207.50L383.59 207.52L384.01 207.53L384.43 207.55L384.84 207.56L385.26 207.57L385.68 207.58L386.10 207.59L386.51 207.60L386.93 207.61L387.35 207.62L387.77 207.62L388.18 207.63L388.60 207.63L389.02 207.64L389.44 207.64L389.85 207.64L390.27 207.65L390.69 207.65L391.11 207.65L391.52 207.65L391.94 207.65L392.36 207.63L392.78 207.62L393.19 207.59L393.61 207.56L394.03 207.53L394.44 207.50L394.86 207.46L395.28 207.43L395.70 207.40L396.11 207.37L396.53 207.34L396.95 207.31L397.37 207.29L397.78 207.27L398.20 207.24L398.62 207.22L399.04 207.19L399.45 207.17L399.87 207.16L400.29 207.15L400.71 207.14L401.12 207.15L401.54 207.16L401.96 207.19L402.38 207.22L402.79 207.26L403.21 207.30L403.63 207.36L404.05 207.41L404.46 207.47L404.88 207.53L405.30 207.60L405.71 207.67L406.13 207.73L406.55 207.81L406.97 207.91L407.38 208.03L407.80 208.16L408.22 208.30L408.64 208.46L409.05 208.62L409.47 208.78L409.89 208.95L410.31 209.11L410.72 209.27L411.14 209.43L411.56 209.58L411.98 209.71L412.39 209.84L412.81 209.95L413.23 210.08L413.65 210.21L414.06 210.34L414.48 210.47L414.90 210.59L415.31 210.71L415.73 210.81L416.15 210.90L416.57 210.98L416.98 211.03L417.40 211.07L417.82 211.07L418.24 211.07L418.65 211.05L419.07 211.03L419.49 211.01L419.91 210.98L420.32 210.95L420.74 210.92L421.16 210.89L421.58 210.85L421.99 210.81L422.41 210.77L422.83 210.73L423.25 210.69L423.66 210.65L424.08 210.61L424.50 210.58L424.92 210.54L425.33 210.51L425.75 210.48L426.17 210.45L426.58 210.43L427.00 210.42L427.42 210.40L427.84 210.38L428.25 210.36L428.67 210.34L429.09 210.31L429.51 210.28L429.92 210.25L430.34 210.22L430.76 210.19L431.18 210.15L431.59 210.11L432.01 210.07L432.43 210.03L432.85 209.98L433.26 209.94L433.68 209.89L434.10 209.84L434.52 209.79L434.93 209.74L435.35 209.69L435.77 209.63L436.18 209.58L436.60 209.52L437.02 209.47L437.44 209.41L437.85 209.35L438.27 209.29L438.69 209.23L439.11 209.17L439.52 209.11L439.94 209.05L440.36 208.98L440.78 208.91L441.19 208.84L441.61 208.76L442.03 208.68L442.45 208.59L442.86 208.50L443.28 208.41L443.70 208.32L444.12 208.22L444.53 208.13L444.95 208.02L445.37 207.92L445.79 207.82L446.20 207.71L446.62 207.61L447.04 207.50L447.45 207.39L447.87 207.28L448.29 207.17L448.71 207.06L449.12 206.94L449.54 206.83L449.96 206.71L450.38 206.59L450.79 206.46L451.21 206.34L451.63 206.21L452.05 206.07L452.46 205.94L452.88 205.80L453.30 205.66L453.72 205.52L454.13 205.37L454.55 205.22L454.97 205.07L455.39 204.92L455.80 204.77L456.22 204.61L456.64 204.46L457.05 204.30L457.47 204.14L457.89 203.98L458.31 203.81L458.72 203.65L459.14 203.48L459.56 203.30L459.98 203.13L460.39 202.95L460.81 202.76L461.23 202.58L461.65 202.39L462.06 202.20L462.48 202.00L462.90 201.80L463.32 201.60L463.73 201.40L464.15 201.20L464.57 200.99L464.99 200.78L465.40 200.57L465.82 200.36L466.24 200.15L466.66 199.93L467.07 199.72L467.49 199.50L467.91 199.29L468.32 199.07L468.74 198.86L469.16 198.64L469.58 198.42L469.99 198.20L470.41 197.97L470.83 197.74L471.25 197.51L471.66 197.27L472.08 197.03L472.50 196.78L472.92 196.53L473.33 196.27L473.75 196.00L474.17 195.73L474.59 195.45L475.00 195.16L475.42 194.85L475.84 194.53L476.26 194.20L476.67 193.85L477.09 193.49L477.51 193.12L477.92 192.74L478.34 192.35L478.76 191.95L479.18 191.54L479.59 191.13L480.01 190.68L480.43 190.18L480.85 189.64L481.26 189.09L481.68 188.55L482.10 188.03L482.52 187.56L482.93 187.15L483.35 186.83L483.77 186.54L484.19 186.26L484.60 186.01L485.02 185.81L485.44 185.67L485.86 185.64L486.27 185.71L486.69 185.88L487.11 186.12L487.53 186.41L487.94 186.74L488.36 187.08L488.78 187.49L489.19 188.02L489.61 188.64L490.03 189.36L490.45 190.14L490.86 190.99L491.28 191.88L491.70 193.01L492.12 194.38L492.53 195.88L492.95 197.41L493.37 198.87L493.79 200.15L494.20 201.19L494.62 202.17L495.04 203.13L495.46 204.05L495.87 204.92L496.29 205.75L496.71 206.52L497.13 207.21L497.54 207.83L497.96 208.37L498.38 208.82L498.79 209.20L499.21 209.57L499.63 209.91L500.05 210.23L500.46 210.53L500.88 210.80L501.30 211.05L501.72 211.27L502.13 211.47L502.55 211.63L502.97 211.77L503.39 211.88L503.80 212.00L504.22 212.11L504.64 212.22L505.06 212.32L505.47 212.42L505.89 212.51L506.31 212.60L506.73 212.68L507.14 212.76L507.56 212.83L507.98 212.89L508.40 212.95L508.81 213.00L509.23 213.05L509.65 213.09L510.06 213.12L510.48 213.14L510.90 213.15L511.32 213.16L511.73 213.17L512.15 213.18L512.57 213.18L512.99 213.19L513.40 213.19L513.82 213.20L514.24 213.20L514.66 213.20L515.07 213.20L515.49 213.20L515.91 213.20L516.33 213.20L516.74 213.20L517.16 213.20L517.58 213.20L518.00 213.20L518.41 213.20L518.83 213.20L519.25 213.20L519.66 213.20L520.08 213.20L520.50 213.20L520.92 213.20L521.33 213.20L521.75 213.20L522.17 213.20L522.59 213.20L523.00 213.20L523.42 213.20L523.84 213.20L524.26 213.20L524.67 213.20L525.09 213.20L525.51 213.20L525.93 213.20L526.34 213.20L526.76 213.20L527.18 213.20L527.60 213.20L528.01 213.20L528.43 213.20L528.85 213.20L529.27 213.20L529.68 213.20L530.10 213.20L530.52 213.20L530.93 213.20L531.35 213.20L531.77 213.20L532.19 213.20L532.60 213.20L533.02 213.20L533.44 213.20L533.86 213.20L534.27 213.20L534.69 213.20L535.11 213.20L535.53 213.20L535.94 213.20L536.36 213.20L536.78 213.20L537.20 213.20L537.61 213.20L538.03 213.20L538.45 213.20L538.87 213.20L539.28 213.20L539.70 213.20"/>
</g>
<path d="M61.6 53.4H84.6" stroke="#000000" stroke-width="1.4"/>
<path d="M212.7 53.4H236.1" stroke="#ff0000" stroke-width="1.4"/>
<path d="M61.6 65.5H84.6" stroke="#0000ff" stroke-width="1.4"/>
<path d="M114.1 65.7H137.1" stroke="#ff33ff" stroke-width="1.4"/>
<path d="M167 65.7H190.1" stroke="#00a000" stroke-width="1.4"/>
<path d="M225.2 65.5H248.1" stroke="#2222a0" stroke-width="1.4"/>
<path d="M61.6 77.5H84.6" stroke="#9933ff" stroke-width="1.4"/>
<path d="M388 51.10H411.5" stroke="#000000" stroke-width="1.4"/>
<path d="M388 63.75H411.5" stroke="#ff0000" stroke-width="1.4"/>
<path d="M388 76.40H411.5" stroke="#0000ff" stroke-width="1.4"/>
<path d="M388 89.05H411.5" stroke="#008000" stroke-width="2.2"/>
<path d="M388 101.70H411.5" stroke="#990099" stroke-width="1.4"/>
<path d="M388 114.35H411.5" stroke="#ff33ff" stroke-width="1.4"/>
<path d="M388 127.00H411.5" stroke="#999933" stroke-width="1.4"/>
<path d="M388 139.65H411.5" stroke="#b00000" stroke-width="1.4"/>
<path d="M388 152.30H411.5" stroke="#ff1493" stroke-width="1.4"/>
<path d="M388 164.95H411.5" stroke="#20b2aa" stroke-width="1.4"/>
<path d="M388 177.60H411.5" stroke="#1f1fa0" stroke-width="1.4"/>
</svg></body></html>
